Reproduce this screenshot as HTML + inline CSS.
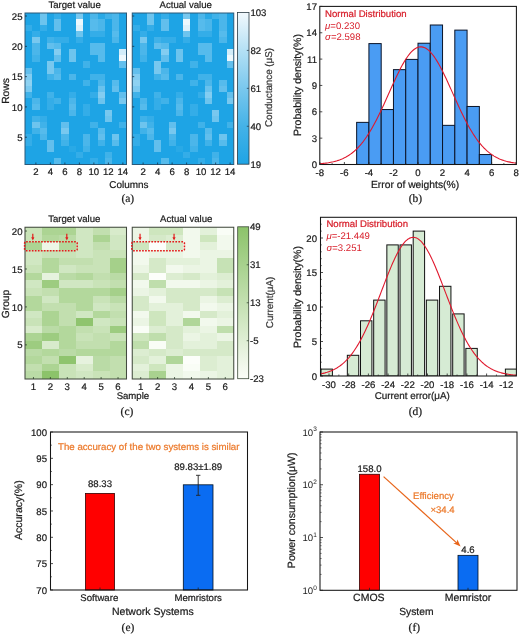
<!DOCTYPE html>
<html lang="en"><head><meta charset="utf-8"><title>Figure</title>
<style>html,body{margin:0;padding:0;background:#fff}svg{display:block;text-rendering:geometricPrecision}text{white-space:pre}</style></head>
<body>
<svg width="520" height="635" viewBox="0 0 520 635" font-family="'Liberation Sans', Arial, sans-serif">
<defs>
<linearGradient id="gb" x1="0" y1="0" x2="0" y2="1"><stop offset="0" stop-color="#f2f9fd"/><stop offset="0.25" stop-color="#b4e0f5"/><stop offset="0.5" stop-color="#7ac8ee"/><stop offset="0.75" stop-color="#44b2e7"/><stop offset="1" stop-color="#1ea4e5"/></linearGradient>
<linearGradient id="gg" x1="0" y1="0" x2="0" y2="1"><stop offset="0" stop-color="#8cc36a"/><stop offset="1" stop-color="#fbfdf8"/></linearGradient>
</defs>
<rect width="520" height="635" fill="#fff"/>
<rect x="25" y="13" width="101.5" height="151.5" fill="#1ea4e5"/>
<rect x="39.50" y="13.00" width="7.30" height="6.11" shape-rendering="crispEdges" fill="#6dc4ee"/>
<rect x="39.50" y="19.06" width="7.30" height="6.11" shape-rendering="crispEdges" fill="#6dc4ee"/>
<rect x="39.50" y="25.12" width="7.30" height="6.11" shape-rendering="crispEdges" fill="#34ade8"/>
<rect x="54.00" y="13.00" width="7.30" height="6.11" shape-rendering="crispEdges" fill="#34ade8"/>
<rect x="54.00" y="19.06" width="7.30" height="6.11" shape-rendering="crispEdges" fill="#62bfed"/>
<rect x="54.00" y="25.12" width="7.30" height="6.11" shape-rendering="crispEdges" fill="#62bfed"/>
<rect x="54.00" y="37.24" width="7.30" height="6.11" shape-rendering="crispEdges" fill="#34ade8"/>
<rect x="54.00" y="43.30" width="7.30" height="6.11" shape-rendering="crispEdges" fill="#56bbec"/>
<rect x="54.00" y="49.36" width="7.30" height="6.11" shape-rendering="crispEdges" fill="#83cdf1"/>
<rect x="54.00" y="55.42" width="7.30" height="6.11" shape-rendering="crispEdges" fill="#62bfed"/>
<rect x="54.00" y="67.54" width="7.30" height="6.11" shape-rendering="crispEdges" fill="#4bb6ea"/>
<rect x="54.00" y="73.60" width="7.30" height="6.11" shape-rendering="crispEdges" fill="#56bbec"/>
<rect x="54.00" y="97.84" width="7.30" height="6.11" shape-rendering="crispEdges" fill="#40b2e9"/>
<rect x="54.00" y="158.44" width="7.30" height="6.11" shape-rendering="crispEdges" fill="#56bbec"/>
<rect x="25.00" y="25.12" width="7.30" height="6.11" shape-rendering="crispEdges" fill="#34ade8"/>
<rect x="25.00" y="67.54" width="7.30" height="6.11" shape-rendering="crispEdges" fill="#62bfed"/>
<rect x="25.00" y="73.60" width="7.30" height="6.11" shape-rendering="crispEdges" fill="#83cdf1"/>
<rect x="25.00" y="79.66" width="7.30" height="6.11" shape-rendering="crispEdges" fill="#8ed2f2"/>
<rect x="25.00" y="85.72" width="7.30" height="6.11" shape-rendering="crispEdges" fill="#7ccaf0"/>
<rect x="25.00" y="91.78" width="7.30" height="6.11" shape-rendering="crispEdges" fill="#40b2e9"/>
<rect x="25.00" y="134.20" width="7.30" height="6.11" shape-rendering="crispEdges" fill="#34ade8"/>
<rect x="25.00" y="140.26" width="7.30" height="6.11" shape-rendering="crispEdges" fill="#34ade8"/>
<rect x="32.25" y="31.18" width="7.30" height="6.11" shape-rendering="crispEdges" fill="#34ade8"/>
<rect x="32.25" y="37.24" width="7.30" height="6.11" shape-rendering="crispEdges" fill="#78c8ef"/>
<rect x="32.25" y="43.30" width="7.30" height="6.11" shape-rendering="crispEdges" fill="#4bb6ea"/>
<rect x="32.25" y="49.36" width="7.30" height="6.11" shape-rendering="crispEdges" fill="#4bb6ea"/>
<rect x="32.25" y="55.42" width="7.30" height="6.11" shape-rendering="crispEdges" fill="#40b2e9"/>
<rect x="32.25" y="97.84" width="7.30" height="6.11" shape-rendering="crispEdges" fill="#4bb6ea"/>
<rect x="32.25" y="103.90" width="7.30" height="6.11" shape-rendering="crispEdges" fill="#56bbec"/>
<rect x="32.25" y="116.02" width="7.30" height="6.11" shape-rendering="crispEdges" fill="#40b2e9"/>
<rect x="32.25" y="122.08" width="7.30" height="6.11" shape-rendering="crispEdges" fill="#6dc4ee"/>
<rect x="32.25" y="128.14" width="7.30" height="6.11" shape-rendering="crispEdges" fill="#40b2e9"/>
<rect x="46.75" y="37.24" width="7.30" height="6.11" shape-rendering="crispEdges" fill="#40b2e9"/>
<rect x="46.75" y="43.30" width="7.30" height="6.11" shape-rendering="crispEdges" fill="#62bfed"/>
<rect x="46.75" y="61.48" width="7.30" height="6.11" shape-rendering="crispEdges" fill="#78c8ef"/>
<rect x="46.75" y="67.54" width="7.30" height="6.11" shape-rendering="crispEdges" fill="#78c8ef"/>
<rect x="46.75" y="73.60" width="7.30" height="6.11" shape-rendering="crispEdges" fill="#40b2e9"/>
<rect x="46.75" y="91.78" width="7.30" height="6.11" shape-rendering="crispEdges" fill="#40b2e9"/>
<rect x="46.75" y="97.84" width="7.30" height="6.11" shape-rendering="crispEdges" fill="#34ade8"/>
<rect x="46.75" y="103.90" width="7.30" height="6.11" shape-rendering="crispEdges" fill="#34ade8"/>
<rect x="46.75" y="140.26" width="7.30" height="6.11" shape-rendering="crispEdges" fill="#62bfed"/>
<rect x="46.75" y="146.32" width="7.30" height="6.11" shape-rendering="crispEdges" fill="#62bfed"/>
<rect x="61.25" y="37.24" width="7.30" height="6.11" shape-rendering="crispEdges" fill="#34ade8"/>
<rect x="61.25" y="122.08" width="7.30" height="6.11" shape-rendering="crispEdges" fill="#62bfed"/>
<rect x="61.25" y="128.14" width="7.30" height="6.11" shape-rendering="crispEdges" fill="#78c8ef"/>
<rect x="61.25" y="134.20" width="7.30" height="6.11" shape-rendering="crispEdges" fill="#4bb6ea"/>
<rect x="61.25" y="140.26" width="7.30" height="6.11" shape-rendering="crispEdges" fill="#40b2e9"/>
<rect x="68.50" y="49.36" width="7.30" height="6.11" shape-rendering="crispEdges" fill="#6dc4ee"/>
<rect x="68.50" y="55.42" width="7.30" height="6.11" shape-rendering="crispEdges" fill="#6dc4ee"/>
<rect x="68.50" y="73.60" width="7.30" height="6.11" shape-rendering="crispEdges" fill="#4bb6ea"/>
<rect x="68.50" y="91.78" width="7.30" height="6.11" shape-rendering="crispEdges" fill="#34ade8"/>
<rect x="68.50" y="97.84" width="7.30" height="6.11" shape-rendering="crispEdges" fill="#4bb6ea"/>
<rect x="68.50" y="103.90" width="7.30" height="6.11" shape-rendering="crispEdges" fill="#56bbec"/>
<rect x="68.50" y="109.96" width="7.30" height="6.11" shape-rendering="crispEdges" fill="#4bb6ea"/>
<rect x="68.50" y="146.32" width="7.30" height="6.11" shape-rendering="crispEdges" fill="#29a9e6"/>
<rect x="39.50" y="116.02" width="7.30" height="6.11" shape-rendering="crispEdges" fill="#34ade8"/>
<rect x="39.50" y="122.08" width="7.30" height="6.11" shape-rendering="crispEdges" fill="#40b2e9"/>
<rect x="39.50" y="128.14" width="7.30" height="6.11" shape-rendering="crispEdges" fill="#56bbec"/>
<rect x="39.50" y="134.20" width="7.30" height="6.11" shape-rendering="crispEdges" fill="#4bb6ea"/>
<rect x="75.75" y="13.00" width="7.30" height="6.11" shape-rendering="crispEdges" fill="#78c8ef"/>
<rect x="75.75" y="19.06" width="7.30" height="6.11" shape-rendering="crispEdges" fill="#edf8fd"/>
<rect x="75.75" y="25.12" width="7.30" height="6.11" shape-rendering="crispEdges" fill="#ddf1fb"/>
<rect x="75.75" y="31.18" width="7.30" height="6.11" shape-rendering="crispEdges" fill="#6dc4ee"/>
<rect x="75.75" y="37.24" width="7.30" height="6.11" shape-rendering="crispEdges" fill="#34ade8"/>
<rect x="75.75" y="152.38" width="7.30" height="6.11" shape-rendering="crispEdges" fill="#34ade8"/>
<rect x="90.25" y="13.00" width="7.30" height="6.11" shape-rendering="crispEdges" fill="#4bb6ea"/>
<rect x="90.25" y="19.06" width="7.30" height="6.11" shape-rendering="crispEdges" fill="#56bbec"/>
<rect x="90.25" y="25.12" width="7.30" height="6.11" shape-rendering="crispEdges" fill="#56bbec"/>
<rect x="90.25" y="31.18" width="7.30" height="6.11" shape-rendering="crispEdges" fill="#34ade8"/>
<rect x="90.25" y="43.30" width="7.30" height="6.11" shape-rendering="crispEdges" fill="#56bbec"/>
<rect x="90.25" y="49.36" width="7.30" height="6.11" shape-rendering="crispEdges" fill="#56bbec"/>
<rect x="90.25" y="73.60" width="7.30" height="6.11" shape-rendering="crispEdges" fill="#40b2e9"/>
<rect x="90.25" y="91.78" width="7.30" height="6.11" shape-rendering="crispEdges" fill="#34ade8"/>
<rect x="90.25" y="122.08" width="7.30" height="6.11" shape-rendering="crispEdges" fill="#40b2e9"/>
<rect x="90.25" y="158.44" width="7.30" height="6.11" shape-rendering="crispEdges" fill="#34ade8"/>
<rect x="97.50" y="13.00" width="7.30" height="6.11" shape-rendering="crispEdges" fill="#29a9e6"/>
<rect x="97.50" y="19.06" width="7.30" height="6.11" shape-rendering="crispEdges" fill="#4bb6ea"/>
<rect x="97.50" y="25.12" width="7.30" height="6.11" shape-rendering="crispEdges" fill="#4bb6ea"/>
<rect x="97.50" y="31.18" width="7.30" height="6.11" shape-rendering="crispEdges" fill="#34ade8"/>
<rect x="97.50" y="43.30" width="7.30" height="6.11" shape-rendering="crispEdges" fill="#56bbec"/>
<rect x="97.50" y="49.36" width="7.30" height="6.11" shape-rendering="crispEdges" fill="#56bbec"/>
<rect x="97.50" y="55.42" width="7.30" height="6.11" shape-rendering="crispEdges" fill="#56bbec"/>
<rect x="97.50" y="73.60" width="7.30" height="6.11" shape-rendering="crispEdges" fill="#40b2e9"/>
<rect x="97.50" y="79.66" width="7.30" height="6.11" shape-rendering="crispEdges" fill="#4bb6ea"/>
<rect x="97.50" y="85.72" width="7.30" height="6.11" shape-rendering="crispEdges" fill="#68c2ee"/>
<rect x="97.50" y="91.78" width="7.30" height="6.11" shape-rendering="crispEdges" fill="#83cdf1"/>
<rect x="97.50" y="97.84" width="7.30" height="6.11" shape-rendering="crispEdges" fill="#6dc4ee"/>
<rect x="97.50" y="128.14" width="7.30" height="6.11" shape-rendering="crispEdges" fill="#56bbec"/>
<rect x="97.50" y="134.20" width="7.30" height="6.11" shape-rendering="crispEdges" fill="#62bfed"/>
<rect x="97.50" y="140.26" width="7.30" height="6.11" shape-rendering="crispEdges" fill="#40b2e9"/>
<rect x="104.75" y="13.00" width="7.30" height="6.11" shape-rendering="crispEdges" fill="#40b2e9"/>
<rect x="104.75" y="109.96" width="7.30" height="6.11" shape-rendering="crispEdges" fill="#78c8ef"/>
<rect x="104.75" y="116.02" width="7.30" height="6.11" shape-rendering="crispEdges" fill="#6dc4ee"/>
<rect x="104.75" y="152.38" width="7.30" height="6.11" shape-rendering="crispEdges" fill="#40b2e9"/>
<rect x="104.75" y="158.44" width="7.30" height="6.11" shape-rendering="crispEdges" fill="#4bb6ea"/>
<rect x="112.00" y="13.00" width="7.30" height="6.11" shape-rendering="crispEdges" fill="#4bb6ea"/>
<rect x="112.00" y="19.06" width="7.30" height="6.11" shape-rendering="crispEdges" fill="#4bb6ea"/>
<rect x="112.00" y="25.12" width="7.30" height="6.11" shape-rendering="crispEdges" fill="#4bb6ea"/>
<rect x="112.00" y="31.18" width="7.30" height="6.11" shape-rendering="crispEdges" fill="#56bbec"/>
<rect x="112.00" y="37.24" width="7.30" height="6.11" shape-rendering="crispEdges" fill="#4bb6ea"/>
<rect x="112.00" y="79.66" width="7.30" height="6.11" shape-rendering="crispEdges" fill="#56bbec"/>
<rect x="112.00" y="85.72" width="7.30" height="6.11" shape-rendering="crispEdges" fill="#62bfed"/>
<rect x="112.00" y="134.20" width="7.30" height="6.11" shape-rendering="crispEdges" fill="#6dc4ee"/>
<rect x="112.00" y="140.26" width="7.30" height="6.11" shape-rendering="crispEdges" fill="#56bbec"/>
<rect x="119.25" y="49.36" width="7.30" height="6.11" shape-rendering="crispEdges" fill="#d2edfa"/>
<rect x="119.25" y="55.42" width="7.30" height="6.11" shape-rendering="crispEdges" fill="#edf8fd"/>
<rect x="119.25" y="61.48" width="7.30" height="6.11" shape-rendering="crispEdges" fill="#62bfed"/>
<rect x="119.25" y="91.78" width="7.30" height="6.11" shape-rendering="crispEdges" fill="#62bfed"/>
<rect x="119.25" y="97.84" width="7.30" height="6.11" shape-rendering="crispEdges" fill="#78c8ef"/>
<rect x="119.25" y="122.08" width="7.30" height="6.11" shape-rendering="crispEdges" fill="#40b2e9"/>
<rect x="83.00" y="61.48" width="7.30" height="6.11" shape-rendering="crispEdges" fill="#40b2e9"/>
<rect x="83.00" y="79.66" width="7.30" height="6.11" shape-rendering="crispEdges" fill="#40b2e9"/>
<rect x="83.00" y="103.90" width="7.30" height="6.11" shape-rendering="crispEdges" fill="#34ade8"/>
<rect x="83.00" y="109.96" width="7.30" height="6.11" shape-rendering="crispEdges" fill="#34ade8"/>
<rect x="83.00" y="134.20" width="7.30" height="6.11" shape-rendering="crispEdges" fill="#4bb6ea"/>
<rect x="83.00" y="140.26" width="7.30" height="6.11" shape-rendering="crispEdges" fill="#4bb6ea"/>
<rect x="83.00" y="146.32" width="7.30" height="6.11" shape-rendering="crispEdges" fill="#40b2e9"/>
<rect x="25" y="13" width="101.5" height="151.5" fill="none" stroke="#2a5a7a" stroke-width="1"/>
<line x1="35.88" y1="164.5" x2="35.88" y2="162.5" stroke="#123" stroke-width="0.7"/>
<line x1="50.38" y1="164.5" x2="50.38" y2="162.5" stroke="#123" stroke-width="0.7"/>
<line x1="64.88" y1="164.5" x2="64.88" y2="162.5" stroke="#123" stroke-width="0.7"/>
<line x1="79.38" y1="164.5" x2="79.38" y2="162.5" stroke="#123" stroke-width="0.7"/>
<line x1="93.88" y1="164.5" x2="93.88" y2="162.5" stroke="#123" stroke-width="0.7"/>
<line x1="108.38" y1="164.5" x2="108.38" y2="162.5" stroke="#123" stroke-width="0.7"/>
<line x1="122.88" y1="164.5" x2="122.88" y2="162.5" stroke="#123" stroke-width="0.7"/>
<line x1="25" y1="137.23" x2="27" y2="137.23" stroke="#123" stroke-width="0.7"/>
<line x1="25" y1="106.93" x2="27" y2="106.93" stroke="#123" stroke-width="0.7"/>
<line x1="25" y1="76.63" x2="27" y2="76.63" stroke="#123" stroke-width="0.7"/>
<line x1="25" y1="46.33" x2="27" y2="46.33" stroke="#123" stroke-width="0.7"/>
<line x1="25" y1="16.03" x2="27" y2="16.03" stroke="#123" stroke-width="0.7"/>
<rect x="132.25" y="13" width="101.5" height="151.5" fill="#1ea4e5"/>
<rect x="146.75" y="13.00" width="7.30" height="6.11" shape-rendering="crispEdges" fill="#6dc4ee"/>
<rect x="146.75" y="19.06" width="7.30" height="6.11" shape-rendering="crispEdges" fill="#6dc4ee"/>
<rect x="146.75" y="25.12" width="7.30" height="6.11" shape-rendering="crispEdges" fill="#34ade8"/>
<rect x="161.25" y="13.00" width="7.30" height="6.11" shape-rendering="crispEdges" fill="#34ade8"/>
<rect x="161.25" y="19.06" width="7.30" height="6.11" shape-rendering="crispEdges" fill="#62bfed"/>
<rect x="161.25" y="25.12" width="7.30" height="6.11" shape-rendering="crispEdges" fill="#62bfed"/>
<rect x="161.25" y="37.24" width="7.30" height="6.11" shape-rendering="crispEdges" fill="#34ade8"/>
<rect x="161.25" y="43.30" width="7.30" height="6.11" shape-rendering="crispEdges" fill="#56bbec"/>
<rect x="161.25" y="49.36" width="7.30" height="6.11" shape-rendering="crispEdges" fill="#83cdf1"/>
<rect x="161.25" y="55.42" width="7.30" height="6.11" shape-rendering="crispEdges" fill="#62bfed"/>
<rect x="161.25" y="67.54" width="7.30" height="6.11" shape-rendering="crispEdges" fill="#4bb6ea"/>
<rect x="161.25" y="73.60" width="7.30" height="6.11" shape-rendering="crispEdges" fill="#56bbec"/>
<rect x="161.25" y="97.84" width="7.30" height="6.11" shape-rendering="crispEdges" fill="#40b2e9"/>
<rect x="161.25" y="158.44" width="7.30" height="6.11" shape-rendering="crispEdges" fill="#56bbec"/>
<rect x="132.25" y="25.12" width="7.30" height="6.11" shape-rendering="crispEdges" fill="#34ade8"/>
<rect x="132.25" y="67.54" width="7.30" height="6.11" shape-rendering="crispEdges" fill="#62bfed"/>
<rect x="132.25" y="73.60" width="7.30" height="6.11" shape-rendering="crispEdges" fill="#83cdf1"/>
<rect x="132.25" y="79.66" width="7.30" height="6.11" shape-rendering="crispEdges" fill="#8ed2f2"/>
<rect x="132.25" y="85.72" width="7.30" height="6.11" shape-rendering="crispEdges" fill="#7ccaf0"/>
<rect x="132.25" y="91.78" width="7.30" height="6.11" shape-rendering="crispEdges" fill="#40b2e9"/>
<rect x="132.25" y="134.20" width="7.30" height="6.11" shape-rendering="crispEdges" fill="#34ade8"/>
<rect x="132.25" y="140.26" width="7.30" height="6.11" shape-rendering="crispEdges" fill="#34ade8"/>
<rect x="139.50" y="31.18" width="7.30" height="6.11" shape-rendering="crispEdges" fill="#34ade8"/>
<rect x="139.50" y="37.24" width="7.30" height="6.11" shape-rendering="crispEdges" fill="#78c8ef"/>
<rect x="139.50" y="43.30" width="7.30" height="6.11" shape-rendering="crispEdges" fill="#4bb6ea"/>
<rect x="139.50" y="49.36" width="7.30" height="6.11" shape-rendering="crispEdges" fill="#4bb6ea"/>
<rect x="139.50" y="55.42" width="7.30" height="6.11" shape-rendering="crispEdges" fill="#40b2e9"/>
<rect x="139.50" y="97.84" width="7.30" height="6.11" shape-rendering="crispEdges" fill="#4bb6ea"/>
<rect x="139.50" y="103.90" width="7.30" height="6.11" shape-rendering="crispEdges" fill="#56bbec"/>
<rect x="139.50" y="116.02" width="7.30" height="6.11" shape-rendering="crispEdges" fill="#40b2e9"/>
<rect x="139.50" y="122.08" width="7.30" height="6.11" shape-rendering="crispEdges" fill="#6dc4ee"/>
<rect x="139.50" y="128.14" width="7.30" height="6.11" shape-rendering="crispEdges" fill="#40b2e9"/>
<rect x="154.00" y="37.24" width="7.30" height="6.11" shape-rendering="crispEdges" fill="#40b2e9"/>
<rect x="154.00" y="43.30" width="7.30" height="6.11" shape-rendering="crispEdges" fill="#62bfed"/>
<rect x="154.00" y="61.48" width="7.30" height="6.11" shape-rendering="crispEdges" fill="#78c8ef"/>
<rect x="154.00" y="67.54" width="7.30" height="6.11" shape-rendering="crispEdges" fill="#78c8ef"/>
<rect x="154.00" y="73.60" width="7.30" height="6.11" shape-rendering="crispEdges" fill="#40b2e9"/>
<rect x="154.00" y="91.78" width="7.30" height="6.11" shape-rendering="crispEdges" fill="#40b2e9"/>
<rect x="154.00" y="97.84" width="7.30" height="6.11" shape-rendering="crispEdges" fill="#34ade8"/>
<rect x="154.00" y="103.90" width="7.30" height="6.11" shape-rendering="crispEdges" fill="#34ade8"/>
<rect x="154.00" y="140.26" width="7.30" height="6.11" shape-rendering="crispEdges" fill="#62bfed"/>
<rect x="154.00" y="146.32" width="7.30" height="6.11" shape-rendering="crispEdges" fill="#62bfed"/>
<rect x="168.50" y="37.24" width="7.30" height="6.11" shape-rendering="crispEdges" fill="#34ade8"/>
<rect x="168.50" y="122.08" width="7.30" height="6.11" shape-rendering="crispEdges" fill="#62bfed"/>
<rect x="168.50" y="128.14" width="7.30" height="6.11" shape-rendering="crispEdges" fill="#78c8ef"/>
<rect x="168.50" y="134.20" width="7.30" height="6.11" shape-rendering="crispEdges" fill="#4bb6ea"/>
<rect x="168.50" y="140.26" width="7.30" height="6.11" shape-rendering="crispEdges" fill="#40b2e9"/>
<rect x="175.75" y="49.36" width="7.30" height="6.11" shape-rendering="crispEdges" fill="#6dc4ee"/>
<rect x="175.75" y="55.42" width="7.30" height="6.11" shape-rendering="crispEdges" fill="#6dc4ee"/>
<rect x="175.75" y="73.60" width="7.30" height="6.11" shape-rendering="crispEdges" fill="#4bb6ea"/>
<rect x="175.75" y="91.78" width="7.30" height="6.11" shape-rendering="crispEdges" fill="#34ade8"/>
<rect x="175.75" y="97.84" width="7.30" height="6.11" shape-rendering="crispEdges" fill="#4bb6ea"/>
<rect x="175.75" y="103.90" width="7.30" height="6.11" shape-rendering="crispEdges" fill="#56bbec"/>
<rect x="175.75" y="109.96" width="7.30" height="6.11" shape-rendering="crispEdges" fill="#4bb6ea"/>
<rect x="175.75" y="146.32" width="7.30" height="6.11" shape-rendering="crispEdges" fill="#29a9e6"/>
<rect x="146.75" y="116.02" width="7.30" height="6.11" shape-rendering="crispEdges" fill="#34ade8"/>
<rect x="146.75" y="122.08" width="7.30" height="6.11" shape-rendering="crispEdges" fill="#40b2e9"/>
<rect x="146.75" y="128.14" width="7.30" height="6.11" shape-rendering="crispEdges" fill="#56bbec"/>
<rect x="146.75" y="134.20" width="7.30" height="6.11" shape-rendering="crispEdges" fill="#4bb6ea"/>
<rect x="183.00" y="13.00" width="7.30" height="6.11" shape-rendering="crispEdges" fill="#78c8ef"/>
<rect x="183.00" y="19.06" width="7.30" height="6.11" shape-rendering="crispEdges" fill="#edf8fd"/>
<rect x="183.00" y="25.12" width="7.30" height="6.11" shape-rendering="crispEdges" fill="#ddf1fb"/>
<rect x="183.00" y="31.18" width="7.30" height="6.11" shape-rendering="crispEdges" fill="#6dc4ee"/>
<rect x="183.00" y="37.24" width="7.30" height="6.11" shape-rendering="crispEdges" fill="#34ade8"/>
<rect x="183.00" y="152.38" width="7.30" height="6.11" shape-rendering="crispEdges" fill="#34ade8"/>
<rect x="197.50" y="13.00" width="7.30" height="6.11" shape-rendering="crispEdges" fill="#4bb6ea"/>
<rect x="197.50" y="19.06" width="7.30" height="6.11" shape-rendering="crispEdges" fill="#56bbec"/>
<rect x="197.50" y="25.12" width="7.30" height="6.11" shape-rendering="crispEdges" fill="#56bbec"/>
<rect x="197.50" y="31.18" width="7.30" height="6.11" shape-rendering="crispEdges" fill="#34ade8"/>
<rect x="197.50" y="43.30" width="7.30" height="6.11" shape-rendering="crispEdges" fill="#56bbec"/>
<rect x="197.50" y="49.36" width="7.30" height="6.11" shape-rendering="crispEdges" fill="#56bbec"/>
<rect x="197.50" y="73.60" width="7.30" height="6.11" shape-rendering="crispEdges" fill="#40b2e9"/>
<rect x="197.50" y="91.78" width="7.30" height="6.11" shape-rendering="crispEdges" fill="#34ade8"/>
<rect x="197.50" y="122.08" width="7.30" height="6.11" shape-rendering="crispEdges" fill="#40b2e9"/>
<rect x="197.50" y="158.44" width="7.30" height="6.11" shape-rendering="crispEdges" fill="#34ade8"/>
<rect x="204.75" y="13.00" width="7.30" height="6.11" shape-rendering="crispEdges" fill="#29a9e6"/>
<rect x="204.75" y="19.06" width="7.30" height="6.11" shape-rendering="crispEdges" fill="#4bb6ea"/>
<rect x="204.75" y="25.12" width="7.30" height="6.11" shape-rendering="crispEdges" fill="#4bb6ea"/>
<rect x="204.75" y="31.18" width="7.30" height="6.11" shape-rendering="crispEdges" fill="#34ade8"/>
<rect x="204.75" y="43.30" width="7.30" height="6.11" shape-rendering="crispEdges" fill="#56bbec"/>
<rect x="204.75" y="49.36" width="7.30" height="6.11" shape-rendering="crispEdges" fill="#56bbec"/>
<rect x="204.75" y="55.42" width="7.30" height="6.11" shape-rendering="crispEdges" fill="#56bbec"/>
<rect x="204.75" y="73.60" width="7.30" height="6.11" shape-rendering="crispEdges" fill="#40b2e9"/>
<rect x="204.75" y="79.66" width="7.30" height="6.11" shape-rendering="crispEdges" fill="#4bb6ea"/>
<rect x="204.75" y="85.72" width="7.30" height="6.11" shape-rendering="crispEdges" fill="#68c2ee"/>
<rect x="204.75" y="91.78" width="7.30" height="6.11" shape-rendering="crispEdges" fill="#83cdf1"/>
<rect x="204.75" y="97.84" width="7.30" height="6.11" shape-rendering="crispEdges" fill="#6dc4ee"/>
<rect x="204.75" y="128.14" width="7.30" height="6.11" shape-rendering="crispEdges" fill="#56bbec"/>
<rect x="204.75" y="134.20" width="7.30" height="6.11" shape-rendering="crispEdges" fill="#62bfed"/>
<rect x="204.75" y="140.26" width="7.30" height="6.11" shape-rendering="crispEdges" fill="#40b2e9"/>
<rect x="212.00" y="13.00" width="7.30" height="6.11" shape-rendering="crispEdges" fill="#40b2e9"/>
<rect x="212.00" y="109.96" width="7.30" height="6.11" shape-rendering="crispEdges" fill="#78c8ef"/>
<rect x="212.00" y="116.02" width="7.30" height="6.11" shape-rendering="crispEdges" fill="#6dc4ee"/>
<rect x="212.00" y="152.38" width="7.30" height="6.11" shape-rendering="crispEdges" fill="#40b2e9"/>
<rect x="212.00" y="158.44" width="7.30" height="6.11" shape-rendering="crispEdges" fill="#4bb6ea"/>
<rect x="219.25" y="13.00" width="7.30" height="6.11" shape-rendering="crispEdges" fill="#4bb6ea"/>
<rect x="219.25" y="19.06" width="7.30" height="6.11" shape-rendering="crispEdges" fill="#4bb6ea"/>
<rect x="219.25" y="25.12" width="7.30" height="6.11" shape-rendering="crispEdges" fill="#4bb6ea"/>
<rect x="219.25" y="31.18" width="7.30" height="6.11" shape-rendering="crispEdges" fill="#56bbec"/>
<rect x="219.25" y="37.24" width="7.30" height="6.11" shape-rendering="crispEdges" fill="#4bb6ea"/>
<rect x="219.25" y="79.66" width="7.30" height="6.11" shape-rendering="crispEdges" fill="#56bbec"/>
<rect x="219.25" y="85.72" width="7.30" height="6.11" shape-rendering="crispEdges" fill="#62bfed"/>
<rect x="219.25" y="134.20" width="7.30" height="6.11" shape-rendering="crispEdges" fill="#6dc4ee"/>
<rect x="219.25" y="140.26" width="7.30" height="6.11" shape-rendering="crispEdges" fill="#56bbec"/>
<rect x="226.50" y="49.36" width="7.30" height="6.11" shape-rendering="crispEdges" fill="#d2edfa"/>
<rect x="226.50" y="55.42" width="7.30" height="6.11" shape-rendering="crispEdges" fill="#edf8fd"/>
<rect x="226.50" y="61.48" width="7.30" height="6.11" shape-rendering="crispEdges" fill="#62bfed"/>
<rect x="226.50" y="91.78" width="7.30" height="6.11" shape-rendering="crispEdges" fill="#62bfed"/>
<rect x="226.50" y="97.84" width="7.30" height="6.11" shape-rendering="crispEdges" fill="#78c8ef"/>
<rect x="226.50" y="122.08" width="7.30" height="6.11" shape-rendering="crispEdges" fill="#40b2e9"/>
<rect x="190.25" y="61.48" width="7.30" height="6.11" shape-rendering="crispEdges" fill="#40b2e9"/>
<rect x="190.25" y="79.66" width="7.30" height="6.11" shape-rendering="crispEdges" fill="#40b2e9"/>
<rect x="190.25" y="103.90" width="7.30" height="6.11" shape-rendering="crispEdges" fill="#34ade8"/>
<rect x="190.25" y="109.96" width="7.30" height="6.11" shape-rendering="crispEdges" fill="#34ade8"/>
<rect x="190.25" y="134.20" width="7.30" height="6.11" shape-rendering="crispEdges" fill="#4bb6ea"/>
<rect x="190.25" y="140.26" width="7.30" height="6.11" shape-rendering="crispEdges" fill="#4bb6ea"/>
<rect x="190.25" y="146.32" width="7.30" height="6.11" shape-rendering="crispEdges" fill="#40b2e9"/>
<rect x="132.25" y="13" width="101.5" height="151.5" fill="none" stroke="#2a5a7a" stroke-width="1"/>
<line x1="143.12" y1="164.5" x2="143.12" y2="162.5" stroke="#123" stroke-width="0.7"/>
<line x1="157.62" y1="164.5" x2="157.62" y2="162.5" stroke="#123" stroke-width="0.7"/>
<line x1="172.12" y1="164.5" x2="172.12" y2="162.5" stroke="#123" stroke-width="0.7"/>
<line x1="186.62" y1="164.5" x2="186.62" y2="162.5" stroke="#123" stroke-width="0.7"/>
<line x1="201.12" y1="164.5" x2="201.12" y2="162.5" stroke="#123" stroke-width="0.7"/>
<line x1="215.62" y1="164.5" x2="215.62" y2="162.5" stroke="#123" stroke-width="0.7"/>
<line x1="230.12" y1="164.5" x2="230.12" y2="162.5" stroke="#123" stroke-width="0.7"/>
<line x1="132.25" y1="137.23" x2="134.25" y2="137.23" stroke="#123" stroke-width="0.7"/>
<line x1="132.25" y1="106.93" x2="134.25" y2="106.93" stroke="#123" stroke-width="0.7"/>
<line x1="132.25" y1="76.63" x2="134.25" y2="76.63" stroke="#123" stroke-width="0.7"/>
<line x1="132.25" y1="46.33" x2="134.25" y2="46.33" stroke="#123" stroke-width="0.7"/>
<line x1="132.25" y1="16.03" x2="134.25" y2="16.03" stroke="#123" stroke-width="0.7"/>
<text x="74.60" y="7.90" font-size="9.6" text-anchor="middle" fill="#1c1c1c" stroke="#1c1c1c" stroke-width="0.22">Target value</text>
<text x="185.70" y="7.90" font-size="9.6" text-anchor="middle" fill="#1c1c1c" stroke="#1c1c1c" stroke-width="0.22">Actual value</text>
<text x="22.50" y="140.83" font-size="9.6" text-anchor="end" fill="#1c1c1c" stroke="#1c1c1c" stroke-width="0.22">5</text>
<text x="22.50" y="110.53" font-size="9.6" text-anchor="end" fill="#1c1c1c" stroke="#1c1c1c" stroke-width="0.22">10</text>
<text x="22.50" y="80.23" font-size="9.6" text-anchor="end" fill="#1c1c1c" stroke="#1c1c1c" stroke-width="0.22">15</text>
<text x="22.50" y="49.93" font-size="9.6" text-anchor="end" fill="#1c1c1c" stroke="#1c1c1c" stroke-width="0.22">20</text>
<text x="22.50" y="19.63" font-size="9.6" text-anchor="end" fill="#1c1c1c" stroke="#1c1c1c" stroke-width="0.22">25</text>
<text x="35.88" y="175.00" font-size="9.6" text-anchor="middle" fill="#1c1c1c" stroke="#1c1c1c" stroke-width="0.22">2</text>
<text x="143.12" y="175.00" font-size="9.6" text-anchor="middle" fill="#1c1c1c" stroke="#1c1c1c" stroke-width="0.22">2</text>
<text x="50.38" y="175.00" font-size="9.6" text-anchor="middle" fill="#1c1c1c" stroke="#1c1c1c" stroke-width="0.22">4</text>
<text x="157.62" y="175.00" font-size="9.6" text-anchor="middle" fill="#1c1c1c" stroke="#1c1c1c" stroke-width="0.22">4</text>
<text x="64.88" y="175.00" font-size="9.6" text-anchor="middle" fill="#1c1c1c" stroke="#1c1c1c" stroke-width="0.22">6</text>
<text x="172.12" y="175.00" font-size="9.6" text-anchor="middle" fill="#1c1c1c" stroke="#1c1c1c" stroke-width="0.22">6</text>
<text x="79.38" y="175.00" font-size="9.6" text-anchor="middle" fill="#1c1c1c" stroke="#1c1c1c" stroke-width="0.22">8</text>
<text x="186.62" y="175.00" font-size="9.6" text-anchor="middle" fill="#1c1c1c" stroke="#1c1c1c" stroke-width="0.22">8</text>
<text x="93.88" y="175.00" font-size="9.6" text-anchor="middle" fill="#1c1c1c" stroke="#1c1c1c" stroke-width="0.22">10</text>
<text x="201.12" y="175.00" font-size="9.6" text-anchor="middle" fill="#1c1c1c" stroke="#1c1c1c" stroke-width="0.22">10</text>
<text x="108.38" y="175.00" font-size="9.6" text-anchor="middle" fill="#1c1c1c" stroke="#1c1c1c" stroke-width="0.22">12</text>
<text x="215.62" y="175.00" font-size="9.6" text-anchor="middle" fill="#1c1c1c" stroke="#1c1c1c" stroke-width="0.22">12</text>
<text x="122.88" y="175.00" font-size="9.6" text-anchor="middle" fill="#1c1c1c" stroke="#1c1c1c" stroke-width="0.22">14</text>
<text x="230.12" y="175.00" font-size="9.6" text-anchor="middle" fill="#1c1c1c" stroke="#1c1c1c" stroke-width="0.22">14</text>
<text x="8.70" y="91.00" font-size="10.3" text-anchor="middle" fill="#1c1c1c" stroke="#1c1c1c" stroke-width="0.22" transform="rotate(-90 8.70 91.00)">Rows</text>
<text x="128.90" y="188.20" font-size="9.95" text-anchor="middle" fill="#1c1c1c" stroke="#1c1c1c" stroke-width="0.22">Columns</text>
<text x="127.80" y="201.90" font-size="11.5" text-anchor="middle" fill="#1c1c1c" stroke="#1c1c1c" stroke-width="0.22" font-family="'Liberation Serif', 'Times New Roman', serif">(a)</text>
<rect x="237.5" y="12.5" width="11.5" height="151.7" fill="url(#gb)" stroke="#2a3a44" stroke-width="0.8"/>
<text x="250.40" y="16.10" font-size="9.6" text-anchor="start" fill="#1c1c1c" stroke="#1c1c1c" stroke-width="0.22">103</text>
<text x="250.40" y="54.02" font-size="9.6" text-anchor="start" fill="#1c1c1c" stroke="#1c1c1c" stroke-width="0.22">82</text>
<line x1="248.8" y1="50.42" x2="246.8" y2="50.42" stroke="#234" stroke-width="0.7"/>
<text x="250.40" y="91.95" font-size="9.6" text-anchor="start" fill="#1c1c1c" stroke="#1c1c1c" stroke-width="0.22">61</text>
<line x1="248.8" y1="88.35" x2="246.8" y2="88.35" stroke="#234" stroke-width="0.7"/>
<text x="250.40" y="129.88" font-size="9.6" text-anchor="start" fill="#1c1c1c" stroke="#1c1c1c" stroke-width="0.22">40</text>
<line x1="248.8" y1="126.27" x2="246.8" y2="126.27" stroke="#234" stroke-width="0.7"/>
<text x="250.40" y="167.80" font-size="9.6" text-anchor="start" fill="#1c1c1c" stroke="#1c1c1c" stroke-width="0.22">19</text>
<text x="272.00" y="87.50" font-size="9.8" text-anchor="middle" fill="#383838" stroke="#383838" stroke-width="0.22" transform="rotate(-90 272.00 87.50)">Conductance (μS)</text>
<rect x="356.65" y="122.37" width="12.27" height="42.13" fill="#4a9cf3" stroke="#0a1428" stroke-width="1.0"/>
<rect x="368.92" y="43.60" width="12.27" height="120.90" fill="#4a9cf3" stroke="#0a1428" stroke-width="1.0"/>
<rect x="381.19" y="109.54" width="12.27" height="54.96" fill="#4a9cf3" stroke="#0a1428" stroke-width="1.0"/>
<rect x="393.46" y="69.64" width="12.27" height="94.86" fill="#4a9cf3" stroke="#0a1428" stroke-width="1.0"/>
<rect x="405.73" y="59.41" width="12.27" height="105.09" fill="#4a9cf3" stroke="#0a1428" stroke-width="1.0"/>
<rect x="418.00" y="43.23" width="12.27" height="121.27" fill="#4a9cf3" stroke="#0a1428" stroke-width="1.0"/>
<rect x="430.27" y="25.00" width="12.27" height="139.50" fill="#4a9cf3" stroke="#0a1428" stroke-width="1.0"/>
<rect x="442.54" y="125.35" width="12.27" height="39.15" fill="#4a9cf3" stroke="#0a1428" stroke-width="1.0"/>
<rect x="454.81" y="30.12" width="12.27" height="134.38" fill="#4a9cf3" stroke="#0a1428" stroke-width="1.0"/>
<rect x="467.08" y="106.47" width="12.27" height="58.03" fill="#4a9cf3" stroke="#0a1428" stroke-width="1.0"/>
<rect x="479.35" y="154.55" width="12.27" height="9.95" fill="#4a9cf3" stroke="#0a1428" stroke-width="1.0"/>
<polyline points="319.84,163.72 321.07,163.62 322.29,163.51 323.52,163.38 324.75,163.25 325.98,163.09 327.20,162.92 328.43,162.74 329.66,162.53 330.88,162.30 332.11,162.05 333.34,161.78 334.56,161.48 335.79,161.15 337.02,160.79 338.25,160.39 339.47,159.97 340.70,159.50 341.93,159.00 343.15,158.45 344.38,157.86 345.61,157.23 346.83,156.54 348.06,155.81 349.29,155.01 350.51,154.17 351.74,153.26 352.97,152.29 354.20,151.26 355.42,150.16 356.65,148.99 357.88,147.75 359.10,146.45 360.33,145.06 361.56,143.61 362.79,142.07 364.01,140.46 365.24,138.77 366.47,137.01 367.69,135.16 368.92,133.24 370.15,131.25 371.37,129.18 372.60,127.03 373.83,124.81 375.06,122.53 376.28,120.18 377.51,117.76 378.74,115.29 379.96,112.76 381.19,110.18 382.42,107.56 383.64,104.91 384.87,102.22 386.10,99.50 387.32,96.77 388.55,94.02 389.78,91.28 391.01,88.54 392.23,85.81 393.46,83.11 394.69,80.44 395.91,77.80 397.14,75.22 398.37,72.70 399.60,70.25 400.82,67.87 402.05,65.58 403.28,63.39 404.50,61.30 405.73,59.33 406.96,57.47 408.18,55.75 409.41,54.16 410.64,52.71 411.87,51.41 413.09,50.26 414.32,49.28 415.55,48.46 416.77,47.80 418.00,47.32 419.23,47.00 420.45,46.86 421.68,46.90 422.91,47.11 424.13,47.49 425.36,48.04 426.59,48.76 427.82,49.65 429.04,50.70 430.27,51.91 431.50,53.27 432.72,54.78 433.95,56.42 435.18,58.20 436.40,60.10 437.63,62.13 438.86,64.26 440.09,66.49 441.31,68.81 442.54,71.22 443.77,73.70 444.99,76.25 446.22,78.85 447.45,81.50 448.68,84.19 449.90,86.90 451.13,89.63 452.36,92.38 453.58,95.12 454.81,97.86 456.04,100.59 457.26,103.29 458.49,105.97 459.72,108.62 460.94,111.22 462.17,113.78 463.40,116.28 464.63,118.73 465.85,121.12 467.08,123.45 468.31,125.71 469.53,127.90 470.76,130.01 471.99,132.06 473.21,134.02 474.44,135.91 475.67,137.72 476.90,139.46 478.12,141.11 479.35,142.69 480.58,144.20 481.80,145.62 483.03,146.98 484.26,148.26 485.49,149.47 486.71,150.61 487.94,151.68 489.17,152.68 490.39,153.63 491.62,154.51 492.85,155.34 494.07,156.11 495.30,156.82 496.53,157.49 497.75,158.11 498.98,158.68 500.21,159.21 501.44,159.69 502.66,160.14 503.89,160.56 505.12,160.93 506.34,161.28 507.57,161.60 508.80,161.89 510.02,162.15 511.25,162.40 512.48,162.61 513.71,162.81 514.93,162.99 516.16,163.16" fill="none" stroke="#e0182d" stroke-width="1.1"/>
<rect x="319.8" y="6.4" width="196.59999999999997" height="158.1" fill="none" stroke="#151515" stroke-width="1.05"/>
<text x="317.00" y="168.10" font-size="9.6" text-anchor="end" fill="#1c1c1c" stroke="#1c1c1c" stroke-width="0.22">0</text>
<line x1="319.8" y1="164.50" x2="322.3" y2="164.50" stroke="#222" stroke-width="0.8"/>
<text x="317.00" y="141.75" font-size="9.6" text-anchor="end" fill="#1c1c1c" stroke="#1c1c1c" stroke-width="0.22">3</text>
<line x1="319.8" y1="138.15" x2="322.3" y2="138.15" stroke="#222" stroke-width="0.8"/>
<text x="317.00" y="115.40" font-size="9.6" text-anchor="end" fill="#1c1c1c" stroke="#1c1c1c" stroke-width="0.22">6</text>
<line x1="319.8" y1="111.80" x2="322.3" y2="111.80" stroke="#222" stroke-width="0.8"/>
<text x="317.00" y="89.05" font-size="9.6" text-anchor="end" fill="#1c1c1c" stroke="#1c1c1c" stroke-width="0.22">9</text>
<line x1="319.8" y1="85.45" x2="322.3" y2="85.45" stroke="#222" stroke-width="0.8"/>
<text x="317.00" y="62.70" font-size="9.6" text-anchor="end" fill="#1c1c1c" stroke="#1c1c1c" stroke-width="0.22">11</text>
<line x1="319.8" y1="59.10" x2="322.3" y2="59.10" stroke="#222" stroke-width="0.8"/>
<text x="317.00" y="36.35" font-size="9.6" text-anchor="end" fill="#1c1c1c" stroke="#1c1c1c" stroke-width="0.22">14</text>
<line x1="319.8" y1="32.75" x2="322.3" y2="32.75" stroke="#222" stroke-width="0.8"/>
<text x="317.00" y="10.00" font-size="9.6" text-anchor="end" fill="#1c1c1c" stroke="#1c1c1c" stroke-width="0.22">17</text>
<line x1="319.8" y1="6.40" x2="322.3" y2="6.40" stroke="#222" stroke-width="0.8"/>
<text x="319.84" y="176.00" font-size="9.6" text-anchor="middle" fill="#1c1c1c" stroke="#1c1c1c" stroke-width="0.22">-8</text>
<line x1="319.84" y1="164.5" x2="319.84" y2="162.0" stroke="#222" stroke-width="0.8"/>
<text x="344.38" y="176.00" font-size="9.6" text-anchor="middle" fill="#1c1c1c" stroke="#1c1c1c" stroke-width="0.22">-6</text>
<line x1="344.38" y1="164.5" x2="344.38" y2="162.0" stroke="#222" stroke-width="0.8"/>
<text x="368.92" y="176.00" font-size="9.6" text-anchor="middle" fill="#1c1c1c" stroke="#1c1c1c" stroke-width="0.22">-4</text>
<line x1="368.92" y1="164.5" x2="368.92" y2="162.0" stroke="#222" stroke-width="0.8"/>
<text x="393.46" y="176.00" font-size="9.6" text-anchor="middle" fill="#1c1c1c" stroke="#1c1c1c" stroke-width="0.22">-2</text>
<line x1="393.46" y1="164.5" x2="393.46" y2="162.0" stroke="#222" stroke-width="0.8"/>
<text x="418.00" y="176.00" font-size="9.6" text-anchor="middle" fill="#1c1c1c" stroke="#1c1c1c" stroke-width="0.22">0</text>
<line x1="418.00" y1="164.5" x2="418.00" y2="162.0" stroke="#222" stroke-width="0.8"/>
<text x="442.54" y="176.00" font-size="9.6" text-anchor="middle" fill="#1c1c1c" stroke="#1c1c1c" stroke-width="0.22">2</text>
<line x1="442.54" y1="164.5" x2="442.54" y2="162.0" stroke="#222" stroke-width="0.8"/>
<text x="467.08" y="176.00" font-size="9.6" text-anchor="middle" fill="#1c1c1c" stroke="#1c1c1c" stroke-width="0.22">4</text>
<line x1="467.08" y1="164.5" x2="467.08" y2="162.0" stroke="#222" stroke-width="0.8"/>
<text x="491.62" y="176.00" font-size="9.6" text-anchor="middle" fill="#1c1c1c" stroke="#1c1c1c" stroke-width="0.22">6</text>
<line x1="491.62" y1="164.5" x2="491.62" y2="162.0" stroke="#222" stroke-width="0.8"/>
<text x="516.16" y="176.00" font-size="9.6" text-anchor="middle" fill="#1c1c1c" stroke="#1c1c1c" stroke-width="0.22">8</text>
<line x1="516.16" y1="164.5" x2="516.16" y2="162.0" stroke="#222" stroke-width="0.8"/>
<line x1="332.11" y1="164.5" x2="332.11" y2="163.0" stroke="#222" stroke-width="0.7"/>
<line x1="356.65" y1="164.5" x2="356.65" y2="163.0" stroke="#222" stroke-width="0.7"/>
<line x1="381.19" y1="164.5" x2="381.19" y2="163.0" stroke="#222" stroke-width="0.7"/>
<line x1="405.73" y1="164.5" x2="405.73" y2="163.0" stroke="#222" stroke-width="0.7"/>
<line x1="430.27" y1="164.5" x2="430.27" y2="163.0" stroke="#222" stroke-width="0.7"/>
<line x1="454.81" y1="164.5" x2="454.81" y2="163.0" stroke="#222" stroke-width="0.7"/>
<line x1="479.35" y1="164.5" x2="479.35" y2="163.0" stroke="#222" stroke-width="0.7"/>
<line x1="503.89" y1="164.5" x2="503.89" y2="163.0" stroke="#222" stroke-width="0.7"/>
<text x="301.20" y="85.00" font-size="10.55" text-anchor="middle" fill="#1c1c1c" stroke="#1c1c1c" stroke-width="0.22" transform="rotate(-90 301.20 85.00)">Probability density(%)</text>
<text x="415.00" y="188.40" font-size="10.3" text-anchor="middle" fill="#1c1c1c" stroke="#1c1c1c" stroke-width="0.22">Error of weights(%)</text>
<text x="415.40" y="201.80" font-size="11.5" text-anchor="middle" fill="#1c1c1c" stroke="#1c1c1c" stroke-width="0.22" font-family="'Liberation Serif', 'Times New Roman', serif">(b)</text>
<text x="325.10" y="16.80" font-size="9.6" text-anchor="start" fill="#d8202c" stroke="#d8202c" stroke-width="0.22">Normal Distribution</text>
<text x="325.1" y="28.8" font-size="9.6" fill="#d8202c"><tspan font-style="italic">μ</tspan>=0.230</text>
<text x="325.1" y="40.2" font-size="9.6" fill="#d8202c"><tspan font-style="italic">σ</tspan>=2.598</text>
<rect x="25.00" y="227.25" width="16.97" height="7.64" shape-rendering="crispEdges" fill="#c9e3b8"/>
<rect x="41.92" y="227.25" width="16.97" height="7.64" shape-rendering="crispEdges" fill="#acd493"/>
<rect x="58.83" y="227.25" width="16.97" height="7.64" shape-rendering="crispEdges" fill="#acd493"/>
<rect x="75.75" y="227.25" width="16.97" height="7.64" shape-rendering="crispEdges" fill="#d0e7c2"/>
<rect x="92.67" y="227.25" width="16.97" height="7.64" shape-rendering="crispEdges" fill="#c2dfaf"/>
<rect x="109.58" y="227.25" width="16.97" height="7.64" shape-rendering="crispEdges" fill="#d8ebcb"/>
<rect x="25.00" y="234.84" width="16.97" height="7.64" shape-rendering="crispEdges" fill="#c9e3b8"/>
<rect x="41.92" y="234.84" width="16.97" height="7.64" shape-rendering="crispEdges" fill="#b3d89c"/>
<rect x="58.83" y="234.84" width="16.97" height="7.64" shape-rendering="crispEdges" fill="#badba6"/>
<rect x="75.75" y="234.84" width="16.97" height="7.64" shape-rendering="crispEdges" fill="#d0e7c2"/>
<rect x="92.67" y="234.84" width="16.97" height="7.64" shape-rendering="crispEdges" fill="#acd493"/>
<rect x="109.58" y="234.84" width="16.97" height="7.64" shape-rendering="crispEdges" fill="#d0e7c2"/>
<rect x="25.00" y="242.43" width="16.97" height="7.64" shape-rendering="crispEdges" fill="#acd493"/>
<rect x="41.92" y="242.43" width="16.97" height="7.64" shape-rendering="crispEdges" fill="#edf6e7"/>
<rect x="58.83" y="242.43" width="16.97" height="7.64" shape-rendering="crispEdges" fill="#b3d89c"/>
<rect x="75.75" y="242.43" width="16.97" height="7.64" shape-rendering="crispEdges" fill="#d0e7c2"/>
<rect x="92.67" y="242.43" width="16.97" height="7.64" shape-rendering="crispEdges" fill="#c2dfaf"/>
<rect x="109.58" y="242.43" width="16.97" height="7.64" shape-rendering="crispEdges" fill="#d0e7c2"/>
<rect x="25.00" y="250.01" width="16.97" height="7.64" shape-rendering="crispEdges" fill="#d0e7c2"/>
<rect x="41.92" y="250.01" width="16.97" height="7.64" shape-rendering="crispEdges" fill="#c9e3b8"/>
<rect x="58.83" y="250.01" width="16.97" height="7.64" shape-rendering="crispEdges" fill="#c9e3b8"/>
<rect x="75.75" y="250.01" width="16.97" height="7.64" shape-rendering="crispEdges" fill="#d0e7c2"/>
<rect x="92.67" y="250.01" width="16.97" height="7.64" shape-rendering="crispEdges" fill="#c9e3b8"/>
<rect x="109.58" y="250.01" width="16.97" height="7.64" shape-rendering="crispEdges" fill="#c9e3b8"/>
<rect x="25.00" y="257.60" width="16.97" height="7.64" shape-rendering="crispEdges" fill="#d0e7c2"/>
<rect x="41.92" y="257.60" width="16.97" height="7.64" shape-rendering="crispEdges" fill="#b3d89c"/>
<rect x="58.83" y="257.60" width="16.97" height="7.64" shape-rendering="crispEdges" fill="#c2dfaf"/>
<rect x="75.75" y="257.60" width="16.97" height="7.64" shape-rendering="crispEdges" fill="#c2dfaf"/>
<rect x="92.67" y="257.60" width="16.97" height="7.64" shape-rendering="crispEdges" fill="#c9e3b8"/>
<rect x="109.58" y="257.60" width="16.97" height="7.64" shape-rendering="crispEdges" fill="#a5d08a"/>
<rect x="25.00" y="265.19" width="16.97" height="7.64" shape-rendering="crispEdges" fill="#c9e3b8"/>
<rect x="41.92" y="265.19" width="16.97" height="7.64" shape-rendering="crispEdges" fill="#b3d89c"/>
<rect x="58.83" y="265.19" width="16.97" height="7.64" shape-rendering="crispEdges" fill="#d0e7c2"/>
<rect x="75.75" y="265.19" width="16.97" height="7.64" shape-rendering="crispEdges" fill="#c9e3b8"/>
<rect x="92.67" y="265.19" width="16.97" height="7.64" shape-rendering="crispEdges" fill="#c9e3b8"/>
<rect x="109.58" y="265.19" width="16.97" height="7.64" shape-rendering="crispEdges" fill="#a5d08a"/>
<rect x="25.00" y="272.77" width="16.97" height="7.64" shape-rendering="crispEdges" fill="#b3d89c"/>
<rect x="41.92" y="272.77" width="16.97" height="7.64" shape-rendering="crispEdges" fill="#e6f2de"/>
<rect x="58.83" y="272.77" width="16.97" height="7.64" shape-rendering="crispEdges" fill="#badba6"/>
<rect x="75.75" y="272.77" width="16.97" height="7.64" shape-rendering="crispEdges" fill="#b3d89c"/>
<rect x="92.67" y="272.77" width="16.97" height="7.64" shape-rendering="crispEdges" fill="#c2dfaf"/>
<rect x="109.58" y="272.77" width="16.97" height="7.64" shape-rendering="crispEdges" fill="#badba6"/>
<rect x="25.00" y="280.36" width="16.97" height="7.64" shape-rendering="crispEdges" fill="#d0e7c2"/>
<rect x="41.92" y="280.36" width="16.97" height="7.64" shape-rendering="crispEdges" fill="#9dcc80"/>
<rect x="58.83" y="280.36" width="16.97" height="7.64" shape-rendering="crispEdges" fill="#d0e7c2"/>
<rect x="75.75" y="280.36" width="16.97" height="7.64" shape-rendering="crispEdges" fill="#d0e7c2"/>
<rect x="92.67" y="280.36" width="16.97" height="7.64" shape-rendering="crispEdges" fill="#c9e3b8"/>
<rect x="109.58" y="280.36" width="16.97" height="7.64" shape-rendering="crispEdges" fill="#c2dfaf"/>
<rect x="25.00" y="287.95" width="16.97" height="7.64" shape-rendering="crispEdges" fill="#c9e3b8"/>
<rect x="41.92" y="287.95" width="16.97" height="7.64" shape-rendering="crispEdges" fill="#c2dfaf"/>
<rect x="58.83" y="287.95" width="16.97" height="7.64" shape-rendering="crispEdges" fill="#b3d89c"/>
<rect x="75.75" y="287.95" width="16.97" height="7.64" shape-rendering="crispEdges" fill="#b3d89c"/>
<rect x="92.67" y="287.95" width="16.97" height="7.64" shape-rendering="crispEdges" fill="#b3d89c"/>
<rect x="109.58" y="287.95" width="16.97" height="7.64" shape-rendering="crispEdges" fill="#a5d08a"/>
<rect x="25.00" y="295.54" width="16.97" height="7.64" shape-rendering="crispEdges" fill="#b3d89c"/>
<rect x="41.92" y="295.54" width="16.97" height="7.64" shape-rendering="crispEdges" fill="#d0e7c2"/>
<rect x="58.83" y="295.54" width="16.97" height="7.64" shape-rendering="crispEdges" fill="#b3d89c"/>
<rect x="75.75" y="295.54" width="16.97" height="7.64" shape-rendering="crispEdges" fill="#b3d89c"/>
<rect x="92.67" y="295.54" width="16.97" height="7.64" shape-rendering="crispEdges" fill="#c9e3b8"/>
<rect x="109.58" y="295.54" width="16.97" height="7.64" shape-rendering="crispEdges" fill="#badba6"/>
<rect x="25.00" y="303.12" width="16.97" height="7.64" shape-rendering="crispEdges" fill="#b3d89c"/>
<rect x="41.92" y="303.12" width="16.97" height="7.64" shape-rendering="crispEdges" fill="#c2dfaf"/>
<rect x="58.83" y="303.12" width="16.97" height="7.64" shape-rendering="crispEdges" fill="#c2dfaf"/>
<rect x="75.75" y="303.12" width="16.97" height="7.64" shape-rendering="crispEdges" fill="#b3d89c"/>
<rect x="92.67" y="303.12" width="16.97" height="7.64" shape-rendering="crispEdges" fill="#d0e7c2"/>
<rect x="109.58" y="303.12" width="16.97" height="7.64" shape-rendering="crispEdges" fill="#c9e3b8"/>
<rect x="25.00" y="310.71" width="16.97" height="7.64" shape-rendering="crispEdges" fill="#d0e7c2"/>
<rect x="41.92" y="310.71" width="16.97" height="7.64" shape-rendering="crispEdges" fill="#acd493"/>
<rect x="58.83" y="310.71" width="16.97" height="7.64" shape-rendering="crispEdges" fill="#c2dfaf"/>
<rect x="75.75" y="310.71" width="16.97" height="7.64" shape-rendering="crispEdges" fill="#d0e7c2"/>
<rect x="92.67" y="310.71" width="16.97" height="7.64" shape-rendering="crispEdges" fill="#b3d89c"/>
<rect x="109.58" y="310.71" width="16.97" height="7.64" shape-rendering="crispEdges" fill="#c2dfaf"/>
<rect x="25.00" y="318.30" width="16.97" height="7.64" shape-rendering="crispEdges" fill="#c9e3b8"/>
<rect x="41.92" y="318.30" width="16.97" height="7.64" shape-rendering="crispEdges" fill="#acd493"/>
<rect x="58.83" y="318.30" width="16.97" height="7.64" shape-rendering="crispEdges" fill="#c2dfaf"/>
<rect x="75.75" y="318.30" width="16.97" height="7.64" shape-rendering="crispEdges" fill="#8fc46e"/>
<rect x="92.67" y="318.30" width="16.97" height="7.64" shape-rendering="crispEdges" fill="#d0e7c2"/>
<rect x="109.58" y="318.30" width="16.97" height="7.64" shape-rendering="crispEdges" fill="#c9e3b8"/>
<rect x="25.00" y="325.89" width="16.97" height="7.64" shape-rendering="crispEdges" fill="#d8ebcb"/>
<rect x="41.92" y="325.89" width="16.97" height="7.64" shape-rendering="crispEdges" fill="#badba6"/>
<rect x="58.83" y="325.89" width="16.97" height="7.64" shape-rendering="crispEdges" fill="#b3d89c"/>
<rect x="75.75" y="325.89" width="16.97" height="7.64" shape-rendering="crispEdges" fill="#c2dfaf"/>
<rect x="92.67" y="325.89" width="16.97" height="7.64" shape-rendering="crispEdges" fill="#c9e3b8"/>
<rect x="109.58" y="325.89" width="16.97" height="7.64" shape-rendering="crispEdges" fill="#9dcc80"/>
<rect x="25.00" y="333.48" width="16.97" height="7.64" shape-rendering="crispEdges" fill="#acd493"/>
<rect x="41.92" y="333.48" width="16.97" height="7.64" shape-rendering="crispEdges" fill="#9dcc80"/>
<rect x="58.83" y="333.48" width="16.97" height="7.64" shape-rendering="crispEdges" fill="#b3d89c"/>
<rect x="75.75" y="333.48" width="16.97" height="7.64" shape-rendering="crispEdges" fill="#c9e3b8"/>
<rect x="92.67" y="333.48" width="16.97" height="7.64" shape-rendering="crispEdges" fill="#c2dfaf"/>
<rect x="109.58" y="333.48" width="16.97" height="7.64" shape-rendering="crispEdges" fill="#c9e3b8"/>
<rect x="25.00" y="341.06" width="16.97" height="7.64" shape-rendering="crispEdges" fill="#9dcc80"/>
<rect x="41.92" y="341.06" width="16.97" height="7.64" shape-rendering="crispEdges" fill="#d8ebcb"/>
<rect x="58.83" y="341.06" width="16.97" height="7.64" shape-rendering="crispEdges" fill="#b3d89c"/>
<rect x="75.75" y="341.06" width="16.97" height="7.64" shape-rendering="crispEdges" fill="#c2dfaf"/>
<rect x="92.67" y="341.06" width="16.97" height="7.64" shape-rendering="crispEdges" fill="#c2dfaf"/>
<rect x="109.58" y="341.06" width="16.97" height="7.64" shape-rendering="crispEdges" fill="#b3d89c"/>
<rect x="25.00" y="348.65" width="16.97" height="7.64" shape-rendering="crispEdges" fill="#badba6"/>
<rect x="41.92" y="348.65" width="16.97" height="7.64" shape-rendering="crispEdges" fill="#b3d89c"/>
<rect x="58.83" y="348.65" width="16.97" height="7.64" shape-rendering="crispEdges" fill="#badba6"/>
<rect x="75.75" y="348.65" width="16.97" height="7.64" shape-rendering="crispEdges" fill="#b3d89c"/>
<rect x="92.67" y="348.65" width="16.97" height="7.64" shape-rendering="crispEdges" fill="#b3d89c"/>
<rect x="109.58" y="348.65" width="16.97" height="7.64" shape-rendering="crispEdges" fill="#b3d89c"/>
<rect x="25.00" y="356.24" width="16.97" height="7.64" shape-rendering="crispEdges" fill="#b3d89c"/>
<rect x="41.92" y="356.24" width="16.97" height="7.64" shape-rendering="crispEdges" fill="#c2dfaf"/>
<rect x="58.83" y="356.24" width="16.97" height="7.64" shape-rendering="crispEdges" fill="#8fc46e"/>
<rect x="75.75" y="356.24" width="16.97" height="7.64" shape-rendering="crispEdges" fill="#e6f2de"/>
<rect x="92.67" y="356.24" width="16.97" height="7.64" shape-rendering="crispEdges" fill="#badba6"/>
<rect x="109.58" y="356.24" width="16.97" height="7.64" shape-rendering="crispEdges" fill="#c2dfaf"/>
<rect x="25.00" y="363.83" width="16.97" height="7.64" shape-rendering="crispEdges" fill="#c2dfaf"/>
<rect x="41.92" y="363.83" width="16.97" height="7.64" shape-rendering="crispEdges" fill="#acd493"/>
<rect x="58.83" y="363.83" width="16.97" height="7.64" shape-rendering="crispEdges" fill="#c9e3b8"/>
<rect x="75.75" y="363.83" width="16.97" height="7.64" shape-rendering="crispEdges" fill="#d8ebcb"/>
<rect x="92.67" y="363.83" width="16.97" height="7.64" shape-rendering="crispEdges" fill="#badba6"/>
<rect x="109.58" y="363.83" width="16.97" height="7.64" shape-rendering="crispEdges" fill="#c2dfaf"/>
<rect x="25.00" y="371.41" width="16.97" height="7.64" shape-rendering="crispEdges" fill="#badba6"/>
<rect x="41.92" y="371.41" width="16.97" height="7.64" shape-rendering="crispEdges" fill="#8cc36a"/>
<rect x="58.83" y="371.41" width="16.97" height="7.64" shape-rendering="crispEdges" fill="#c9e3b8"/>
<rect x="75.75" y="371.41" width="16.97" height="7.64" shape-rendering="crispEdges" fill="#d0e7c2"/>
<rect x="92.67" y="371.41" width="16.97" height="7.64" shape-rendering="crispEdges" fill="#c9e3b8"/>
<rect x="109.58" y="371.41" width="16.97" height="7.64" shape-rendering="crispEdges" fill="#c2dfaf"/>
<rect x="25" y="227.25" width="101.5" height="151.75" fill="none" stroke="#444b40" stroke-width="1.05"/>
<line x1="33.46" y1="379.0" x2="33.46" y2="377.0" stroke="#232" stroke-width="0.7"/>
<text x="33.46" y="390.00" font-size="9.6" text-anchor="middle" fill="#1c1c1c" stroke="#1c1c1c" stroke-width="0.22">1</text>
<line x1="50.38" y1="379.0" x2="50.38" y2="377.0" stroke="#232" stroke-width="0.7"/>
<text x="50.38" y="390.00" font-size="9.6" text-anchor="middle" fill="#1c1c1c" stroke="#1c1c1c" stroke-width="0.22">2</text>
<line x1="67.29" y1="379.0" x2="67.29" y2="377.0" stroke="#232" stroke-width="0.7"/>
<text x="67.29" y="390.00" font-size="9.6" text-anchor="middle" fill="#1c1c1c" stroke="#1c1c1c" stroke-width="0.22">3</text>
<line x1="84.21" y1="379.0" x2="84.21" y2="377.0" stroke="#232" stroke-width="0.7"/>
<text x="84.21" y="390.00" font-size="9.6" text-anchor="middle" fill="#1c1c1c" stroke="#1c1c1c" stroke-width="0.22">4</text>
<line x1="101.12" y1="379.0" x2="101.12" y2="377.0" stroke="#232" stroke-width="0.7"/>
<text x="101.12" y="390.00" font-size="9.6" text-anchor="middle" fill="#1c1c1c" stroke="#1c1c1c" stroke-width="0.22">5</text>
<line x1="118.04" y1="379.0" x2="118.04" y2="377.0" stroke="#232" stroke-width="0.7"/>
<text x="118.04" y="390.00" font-size="9.6" text-anchor="middle" fill="#1c1c1c" stroke="#1c1c1c" stroke-width="0.22">6</text>
<line x1="25" y1="344.86" x2="27" y2="344.86" stroke="#232" stroke-width="0.7"/>
<text x="22.50" y="348.46" font-size="9.6" text-anchor="end" fill="#1c1c1c" stroke="#1c1c1c" stroke-width="0.22">5</text>
<line x1="25" y1="306.92" x2="27" y2="306.92" stroke="#232" stroke-width="0.7"/>
<text x="22.50" y="310.52" font-size="9.6" text-anchor="end" fill="#1c1c1c" stroke="#1c1c1c" stroke-width="0.22">10</text>
<line x1="25" y1="268.98" x2="27" y2="268.98" stroke="#232" stroke-width="0.7"/>
<text x="22.50" y="272.58" font-size="9.6" text-anchor="end" fill="#1c1c1c" stroke="#1c1c1c" stroke-width="0.22">15</text>
<line x1="25" y1="231.04" x2="27" y2="231.04" stroke="#232" stroke-width="0.7"/>
<text x="22.50" y="234.64" font-size="9.6" text-anchor="end" fill="#1c1c1c" stroke="#1c1c1c" stroke-width="0.22">20</text>
<rect x="132.25" y="227.25" width="16.97" height="7.64" shape-rendering="crispEdges" fill="#ebf5e4"/>
<rect x="149.17" y="227.25" width="16.97" height="7.64" shape-rendering="crispEdges" fill="#cee6be"/>
<rect x="166.08" y="227.25" width="16.97" height="7.64" shape-rendering="crispEdges" fill="#cee6be"/>
<rect x="183.00" y="227.25" width="16.97" height="7.64" shape-rendering="crispEdges" fill="#f2f9ed"/>
<rect x="199.92" y="227.25" width="16.97" height="7.64" shape-rendering="crispEdges" fill="#e3f1da"/>
<rect x="216.83" y="227.25" width="16.97" height="7.64" shape-rendering="crispEdges" fill="#f9fdf6"/>
<rect x="132.25" y="234.84" width="16.97" height="7.64" shape-rendering="crispEdges" fill="#ebf5e4"/>
<rect x="149.17" y="234.84" width="16.97" height="7.64" shape-rendering="crispEdges" fill="#d5e9c8"/>
<rect x="166.08" y="234.84" width="16.97" height="7.64" shape-rendering="crispEdges" fill="#dcedd1"/>
<rect x="183.00" y="234.84" width="16.97" height="7.64" shape-rendering="crispEdges" fill="#f2f9ed"/>
<rect x="199.92" y="234.84" width="16.97" height="7.64" shape-rendering="crispEdges" fill="#cee6be"/>
<rect x="216.83" y="234.84" width="16.97" height="7.64" shape-rendering="crispEdges" fill="#f2f9ed"/>
<rect x="132.25" y="242.43" width="16.97" height="7.64" shape-rendering="crispEdges" fill="#cee6be"/>
<rect x="149.17" y="242.43" width="16.97" height="7.64" shape-rendering="crispEdges" fill="#fcfefa"/>
<rect x="166.08" y="242.43" width="16.97" height="7.64" shape-rendering="crispEdges" fill="#d5e9c8"/>
<rect x="183.00" y="242.43" width="16.97" height="7.64" shape-rendering="crispEdges" fill="#f2f9ed"/>
<rect x="199.92" y="242.43" width="16.97" height="7.64" shape-rendering="crispEdges" fill="#e3f1da"/>
<rect x="216.83" y="242.43" width="16.97" height="7.64" shape-rendering="crispEdges" fill="#f2f9ed"/>
<rect x="132.25" y="250.01" width="16.97" height="7.64" shape-rendering="crispEdges" fill="#f2f9ed"/>
<rect x="149.17" y="250.01" width="16.97" height="7.64" shape-rendering="crispEdges" fill="#ebf5e4"/>
<rect x="166.08" y="250.01" width="16.97" height="7.64" shape-rendering="crispEdges" fill="#ebf5e4"/>
<rect x="183.00" y="250.01" width="16.97" height="7.64" shape-rendering="crispEdges" fill="#f2f9ed"/>
<rect x="199.92" y="250.01" width="16.97" height="7.64" shape-rendering="crispEdges" fill="#ebf5e4"/>
<rect x="216.83" y="250.01" width="16.97" height="7.64" shape-rendering="crispEdges" fill="#ebf5e4"/>
<rect x="132.25" y="257.60" width="16.97" height="7.64" shape-rendering="crispEdges" fill="#f2f9ed"/>
<rect x="149.17" y="257.60" width="16.97" height="7.64" shape-rendering="crispEdges" fill="#d5e9c8"/>
<rect x="166.08" y="257.60" width="16.97" height="7.64" shape-rendering="crispEdges" fill="#e3f1da"/>
<rect x="183.00" y="257.60" width="16.97" height="7.64" shape-rendering="crispEdges" fill="#e3f1da"/>
<rect x="199.92" y="257.60" width="16.97" height="7.64" shape-rendering="crispEdges" fill="#ebf5e4"/>
<rect x="216.83" y="257.60" width="16.97" height="7.64" shape-rendering="crispEdges" fill="#c6e2b5"/>
<rect x="132.25" y="265.19" width="16.97" height="7.64" shape-rendering="crispEdges" fill="#ebf5e4"/>
<rect x="149.17" y="265.19" width="16.97" height="7.64" shape-rendering="crispEdges" fill="#d5e9c8"/>
<rect x="166.08" y="265.19" width="16.97" height="7.64" shape-rendering="crispEdges" fill="#f2f9ed"/>
<rect x="183.00" y="265.19" width="16.97" height="7.64" shape-rendering="crispEdges" fill="#ebf5e4"/>
<rect x="199.92" y="265.19" width="16.97" height="7.64" shape-rendering="crispEdges" fill="#ebf5e4"/>
<rect x="216.83" y="265.19" width="16.97" height="7.64" shape-rendering="crispEdges" fill="#c6e2b5"/>
<rect x="132.25" y="272.77" width="16.97" height="7.64" shape-rendering="crispEdges" fill="#d5e9c8"/>
<rect x="149.17" y="272.77" width="16.97" height="7.64" shape-rendering="crispEdges" fill="#fcfefa"/>
<rect x="166.08" y="272.77" width="16.97" height="7.64" shape-rendering="crispEdges" fill="#dcedd1"/>
<rect x="183.00" y="272.77" width="16.97" height="7.64" shape-rendering="crispEdges" fill="#d5e9c8"/>
<rect x="199.92" y="272.77" width="16.97" height="7.64" shape-rendering="crispEdges" fill="#e3f1da"/>
<rect x="216.83" y="272.77" width="16.97" height="7.64" shape-rendering="crispEdges" fill="#dcedd1"/>
<rect x="132.25" y="280.36" width="16.97" height="7.64" shape-rendering="crispEdges" fill="#f2f9ed"/>
<rect x="149.17" y="280.36" width="16.97" height="7.64" shape-rendering="crispEdges" fill="#bfdeac"/>
<rect x="166.08" y="280.36" width="16.97" height="7.64" shape-rendering="crispEdges" fill="#f2f9ed"/>
<rect x="183.00" y="280.36" width="16.97" height="7.64" shape-rendering="crispEdges" fill="#f2f9ed"/>
<rect x="199.92" y="280.36" width="16.97" height="7.64" shape-rendering="crispEdges" fill="#ebf5e4"/>
<rect x="216.83" y="280.36" width="16.97" height="7.64" shape-rendering="crispEdges" fill="#e3f1da"/>
<rect x="132.25" y="287.95" width="16.97" height="7.64" shape-rendering="crispEdges" fill="#ebf5e4"/>
<rect x="149.17" y="287.95" width="16.97" height="7.64" shape-rendering="crispEdges" fill="#e3f1da"/>
<rect x="166.08" y="287.95" width="16.97" height="7.64" shape-rendering="crispEdges" fill="#d5e9c8"/>
<rect x="183.00" y="287.95" width="16.97" height="7.64" shape-rendering="crispEdges" fill="#d5e9c8"/>
<rect x="199.92" y="287.95" width="16.97" height="7.64" shape-rendering="crispEdges" fill="#d5e9c8"/>
<rect x="216.83" y="287.95" width="16.97" height="7.64" shape-rendering="crispEdges" fill="#c6e2b5"/>
<rect x="132.25" y="295.54" width="16.97" height="7.64" shape-rendering="crispEdges" fill="#d5e9c8"/>
<rect x="149.17" y="295.54" width="16.97" height="7.64" shape-rendering="crispEdges" fill="#f2f9ed"/>
<rect x="166.08" y="295.54" width="16.97" height="7.64" shape-rendering="crispEdges" fill="#d5e9c8"/>
<rect x="183.00" y="295.54" width="16.97" height="7.64" shape-rendering="crispEdges" fill="#d5e9c8"/>
<rect x="199.92" y="295.54" width="16.97" height="7.64" shape-rendering="crispEdges" fill="#ebf5e4"/>
<rect x="216.83" y="295.54" width="16.97" height="7.64" shape-rendering="crispEdges" fill="#dcedd1"/>
<rect x="132.25" y="303.12" width="16.97" height="7.64" shape-rendering="crispEdges" fill="#d5e9c8"/>
<rect x="149.17" y="303.12" width="16.97" height="7.64" shape-rendering="crispEdges" fill="#e3f1da"/>
<rect x="166.08" y="303.12" width="16.97" height="7.64" shape-rendering="crispEdges" fill="#e3f1da"/>
<rect x="183.00" y="303.12" width="16.97" height="7.64" shape-rendering="crispEdges" fill="#d5e9c8"/>
<rect x="199.92" y="303.12" width="16.97" height="7.64" shape-rendering="crispEdges" fill="#f2f9ed"/>
<rect x="216.83" y="303.12" width="16.97" height="7.64" shape-rendering="crispEdges" fill="#ebf5e4"/>
<rect x="132.25" y="310.71" width="16.97" height="7.64" shape-rendering="crispEdges" fill="#f2f9ed"/>
<rect x="149.17" y="310.71" width="16.97" height="7.64" shape-rendering="crispEdges" fill="#cee6be"/>
<rect x="166.08" y="310.71" width="16.97" height="7.64" shape-rendering="crispEdges" fill="#e3f1da"/>
<rect x="183.00" y="310.71" width="16.97" height="7.64" shape-rendering="crispEdges" fill="#f2f9ed"/>
<rect x="199.92" y="310.71" width="16.97" height="7.64" shape-rendering="crispEdges" fill="#d5e9c8"/>
<rect x="216.83" y="310.71" width="16.97" height="7.64" shape-rendering="crispEdges" fill="#e3f1da"/>
<rect x="132.25" y="318.30" width="16.97" height="7.64" shape-rendering="crispEdges" fill="#ebf5e4"/>
<rect x="149.17" y="318.30" width="16.97" height="7.64" shape-rendering="crispEdges" fill="#cee6be"/>
<rect x="166.08" y="318.30" width="16.97" height="7.64" shape-rendering="crispEdges" fill="#e3f1da"/>
<rect x="183.00" y="318.30" width="16.97" height="7.64" shape-rendering="crispEdges" fill="#b0d699"/>
<rect x="199.92" y="318.30" width="16.97" height="7.64" shape-rendering="crispEdges" fill="#f2f9ed"/>
<rect x="216.83" y="318.30" width="16.97" height="7.64" shape-rendering="crispEdges" fill="#ebf5e4"/>
<rect x="132.25" y="325.89" width="16.97" height="7.64" shape-rendering="crispEdges" fill="#f9fdf6"/>
<rect x="149.17" y="325.89" width="16.97" height="7.64" shape-rendering="crispEdges" fill="#dcedd1"/>
<rect x="166.08" y="325.89" width="16.97" height="7.64" shape-rendering="crispEdges" fill="#d5e9c8"/>
<rect x="183.00" y="325.89" width="16.97" height="7.64" shape-rendering="crispEdges" fill="#e3f1da"/>
<rect x="199.92" y="325.89" width="16.97" height="7.64" shape-rendering="crispEdges" fill="#ebf5e4"/>
<rect x="216.83" y="325.89" width="16.97" height="7.64" shape-rendering="crispEdges" fill="#bfdeac"/>
<rect x="132.25" y="333.48" width="16.97" height="7.64" shape-rendering="crispEdges" fill="#cee6be"/>
<rect x="149.17" y="333.48" width="16.97" height="7.64" shape-rendering="crispEdges" fill="#bfdeac"/>
<rect x="166.08" y="333.48" width="16.97" height="7.64" shape-rendering="crispEdges" fill="#d5e9c8"/>
<rect x="183.00" y="333.48" width="16.97" height="7.64" shape-rendering="crispEdges" fill="#ebf5e4"/>
<rect x="199.92" y="333.48" width="16.97" height="7.64" shape-rendering="crispEdges" fill="#e3f1da"/>
<rect x="216.83" y="333.48" width="16.97" height="7.64" shape-rendering="crispEdges" fill="#ebf5e4"/>
<rect x="132.25" y="341.06" width="16.97" height="7.64" shape-rendering="crispEdges" fill="#bfdeac"/>
<rect x="149.17" y="341.06" width="16.97" height="7.64" shape-rendering="crispEdges" fill="#f9fdf6"/>
<rect x="166.08" y="341.06" width="16.97" height="7.64" shape-rendering="crispEdges" fill="#d5e9c8"/>
<rect x="183.00" y="341.06" width="16.97" height="7.64" shape-rendering="crispEdges" fill="#e3f1da"/>
<rect x="199.92" y="341.06" width="16.97" height="7.64" shape-rendering="crispEdges" fill="#e3f1da"/>
<rect x="216.83" y="341.06" width="16.97" height="7.64" shape-rendering="crispEdges" fill="#d5e9c8"/>
<rect x="132.25" y="348.65" width="16.97" height="7.64" shape-rendering="crispEdges" fill="#dcedd1"/>
<rect x="149.17" y="348.65" width="16.97" height="7.64" shape-rendering="crispEdges" fill="#d5e9c8"/>
<rect x="166.08" y="348.65" width="16.97" height="7.64" shape-rendering="crispEdges" fill="#dcedd1"/>
<rect x="183.00" y="348.65" width="16.97" height="7.64" shape-rendering="crispEdges" fill="#d5e9c8"/>
<rect x="199.92" y="348.65" width="16.97" height="7.64" shape-rendering="crispEdges" fill="#d5e9c8"/>
<rect x="216.83" y="348.65" width="16.97" height="7.64" shape-rendering="crispEdges" fill="#d5e9c8"/>
<rect x="132.25" y="356.24" width="16.97" height="7.64" shape-rendering="crispEdges" fill="#d5e9c8"/>
<rect x="149.17" y="356.24" width="16.97" height="7.64" shape-rendering="crispEdges" fill="#e3f1da"/>
<rect x="166.08" y="356.24" width="16.97" height="7.64" shape-rendering="crispEdges" fill="#b0d699"/>
<rect x="183.00" y="356.24" width="16.97" height="7.64" shape-rendering="crispEdges" fill="#fcfefa"/>
<rect x="199.92" y="356.24" width="16.97" height="7.64" shape-rendering="crispEdges" fill="#dcedd1"/>
<rect x="216.83" y="356.24" width="16.97" height="7.64" shape-rendering="crispEdges" fill="#e3f1da"/>
<rect x="132.25" y="363.83" width="16.97" height="7.64" shape-rendering="crispEdges" fill="#e3f1da"/>
<rect x="149.17" y="363.83" width="16.97" height="7.64" shape-rendering="crispEdges" fill="#cee6be"/>
<rect x="166.08" y="363.83" width="16.97" height="7.64" shape-rendering="crispEdges" fill="#ebf5e4"/>
<rect x="183.00" y="363.83" width="16.97" height="7.64" shape-rendering="crispEdges" fill="#f9fdf6"/>
<rect x="199.92" y="363.83" width="16.97" height="7.64" shape-rendering="crispEdges" fill="#dcedd1"/>
<rect x="216.83" y="363.83" width="16.97" height="7.64" shape-rendering="crispEdges" fill="#e3f1da"/>
<rect x="132.25" y="371.41" width="16.97" height="7.64" shape-rendering="crispEdges" fill="#dcedd1"/>
<rect x="149.17" y="371.41" width="16.97" height="7.64" shape-rendering="crispEdges" fill="#a9d28f"/>
<rect x="166.08" y="371.41" width="16.97" height="7.64" shape-rendering="crispEdges" fill="#ebf5e4"/>
<rect x="183.00" y="371.41" width="16.97" height="7.64" shape-rendering="crispEdges" fill="#f2f9ed"/>
<rect x="199.92" y="371.41" width="16.97" height="7.64" shape-rendering="crispEdges" fill="#ebf5e4"/>
<rect x="216.83" y="371.41" width="16.97" height="7.64" shape-rendering="crispEdges" fill="#e3f1da"/>
<rect x="132.25" y="227.25" width="101.5" height="151.75" fill="none" stroke="#444b40" stroke-width="1.05"/>
<line x1="140.71" y1="379.0" x2="140.71" y2="377.0" stroke="#232" stroke-width="0.7"/>
<text x="140.71" y="390.00" font-size="9.6" text-anchor="middle" fill="#1c1c1c" stroke="#1c1c1c" stroke-width="0.22">1</text>
<line x1="157.62" y1="379.0" x2="157.62" y2="377.0" stroke="#232" stroke-width="0.7"/>
<text x="157.62" y="390.00" font-size="9.6" text-anchor="middle" fill="#1c1c1c" stroke="#1c1c1c" stroke-width="0.22">2</text>
<line x1="174.54" y1="379.0" x2="174.54" y2="377.0" stroke="#232" stroke-width="0.7"/>
<text x="174.54" y="390.00" font-size="9.6" text-anchor="middle" fill="#1c1c1c" stroke="#1c1c1c" stroke-width="0.22">3</text>
<line x1="191.46" y1="379.0" x2="191.46" y2="377.0" stroke="#232" stroke-width="0.7"/>
<text x="191.46" y="390.00" font-size="9.6" text-anchor="middle" fill="#1c1c1c" stroke="#1c1c1c" stroke-width="0.22">4</text>
<line x1="208.38" y1="379.0" x2="208.38" y2="377.0" stroke="#232" stroke-width="0.7"/>
<text x="208.38" y="390.00" font-size="9.6" text-anchor="middle" fill="#1c1c1c" stroke="#1c1c1c" stroke-width="0.22">5</text>
<line x1="225.29" y1="379.0" x2="225.29" y2="377.0" stroke="#232" stroke-width="0.7"/>
<text x="225.29" y="390.00" font-size="9.6" text-anchor="middle" fill="#1c1c1c" stroke="#1c1c1c" stroke-width="0.22">6</text>
<text x="74.30" y="221.60" font-size="9.6" text-anchor="middle" fill="#1c1c1c" stroke="#1c1c1c" stroke-width="0.22">Target value</text>
<text x="186.20" y="221.60" font-size="9.6" text-anchor="middle" fill="#1c1c1c" stroke="#1c1c1c" stroke-width="0.22">Actual value</text>
<text x="8.70" y="304.00" font-size="10.3" text-anchor="middle" fill="#1c1c1c" stroke="#1c1c1c" stroke-width="0.22" transform="rotate(-90 8.70 304.00)">Group</text>
<text x="132.90" y="399.20" font-size="9.6" text-anchor="middle" fill="#1c1c1c" stroke="#1c1c1c" stroke-width="0.22">Sample</text>
<text x="127.00" y="415.40" font-size="11.5" text-anchor="middle" fill="#1c1c1c" stroke="#1c1c1c" stroke-width="0.22" font-family="'Liberation Serif', 'Times New Roman', serif">(c)</text>
<rect x="24.60" y="241.7" width="52.6" height="9.0" rx="1.5" fill="none" stroke="#e31b1b" stroke-width="1.5" stroke-dasharray="1.7 1.3"/>
<path d="M32.80 233.8 V239" stroke="#e31b1b" stroke-width="1.2" fill="none"/>
<path d="M31.20 237.3 L32.80 240.6 L34.40 237.3 Z" fill="#e02020"/>
<path d="M66.80 233.8 V239" stroke="#e31b1b" stroke-width="1.2" fill="none"/>
<path d="M65.20 237.3 L66.80 240.6 L68.40 237.3 Z" fill="#e02020"/>
<rect x="131.85" y="241.7" width="52.6" height="9.0" rx="1.5" fill="none" stroke="#e31b1b" stroke-width="1.5" stroke-dasharray="1.7 1.3"/>
<path d="M140.05 233.8 V239" stroke="#e31b1b" stroke-width="1.2" fill="none"/>
<path d="M138.45 237.3 L140.05 240.6 L141.65 237.3 Z" fill="#e02020"/>
<path d="M174.05 233.8 V239" stroke="#e31b1b" stroke-width="1.2" fill="none"/>
<path d="M172.45 237.3 L174.05 240.6 L175.65 237.3 Z" fill="#e02020"/>
<rect x="237.7" y="226.8" width="11" height="151.9" fill="url(#gg)" stroke="#3c4a38" stroke-width="0.8"/>
<text x="250.00" y="230.40" font-size="9.6" text-anchor="start" fill="#1c1c1c" stroke="#1c1c1c" stroke-width="0.22">49</text>
<text x="250.00" y="268.38" font-size="9.6" text-anchor="start" fill="#1c1c1c" stroke="#1c1c1c" stroke-width="0.22">31</text>
<line x1="248.7" y1="264.78" x2="246.7" y2="264.78" stroke="#232" stroke-width="0.7"/>
<text x="250.00" y="306.35" font-size="9.6" text-anchor="start" fill="#1c1c1c" stroke="#1c1c1c" stroke-width="0.22">13</text>
<line x1="248.7" y1="302.75" x2="246.7" y2="302.75" stroke="#232" stroke-width="0.7"/>
<text x="250.00" y="344.33" font-size="9.6" text-anchor="start" fill="#1c1c1c" stroke="#1c1c1c" stroke-width="0.22">-5</text>
<line x1="248.7" y1="340.73" x2="246.7" y2="340.73" stroke="#232" stroke-width="0.7"/>
<text x="250.00" y="382.30" font-size="9.6" text-anchor="start" fill="#1c1c1c" stroke="#1c1c1c" stroke-width="0.22">-23</text>
<text x="272.80" y="302.50" font-size="9.8" text-anchor="middle" fill="#383838" stroke="#383838" stroke-width="0.22" transform="rotate(-90 272.80 302.50)">Current(μA)</text>
<clipPath id="cd"><rect x="320.5" y="217.3" width="195.89999999999998" height="158.7"/></clipPath>
<g clip-path="url(#cd)">
<rect x="321.00" y="369.10" width="11.4" height="6.90" fill="#d6ebd4" stroke="#111" stroke-width="1.0"/>
<rect x="347.34" y="355.30" width="11.4" height="20.70" fill="#d6ebd4" stroke="#111" stroke-width="1.0"/>
<rect x="360.51" y="320.80" width="11.4" height="55.20" fill="#d6ebd4" stroke="#111" stroke-width="1.0"/>
<rect x="373.68" y="300.10" width="11.4" height="75.90" fill="#d6ebd4" stroke="#111" stroke-width="1.0"/>
<rect x="386.85" y="244.90" width="11.4" height="131.10" fill="#d6ebd4" stroke="#111" stroke-width="1.0"/>
<rect x="400.02" y="244.90" width="11.4" height="131.10" fill="#d6ebd4" stroke="#111" stroke-width="1.0"/>
<rect x="413.19" y="231.10" width="11.4" height="144.90" fill="#d6ebd4" stroke="#111" stroke-width="1.0"/>
<rect x="426.36" y="300.10" width="11.4" height="75.90" fill="#d6ebd4" stroke="#111" stroke-width="1.0"/>
<rect x="439.53" y="286.30" width="11.4" height="89.70" fill="#d6ebd4" stroke="#111" stroke-width="1.0"/>
<rect x="452.70" y="313.90" width="11.4" height="62.10" fill="#d6ebd4" stroke="#111" stroke-width="1.0"/>
<rect x="465.87" y="348.40" width="11.4" height="27.60" fill="#d6ebd4" stroke="#111" stroke-width="1.0"/>
<rect x="505.38" y="369.10" width="11.4" height="6.90" fill="#d6ebd4" stroke="#111" stroke-width="1.0"/>
<polyline points="319.15,374.15 320.13,373.97 321.12,373.78 322.11,373.58 323.09,373.36 324.07,373.12 325.06,372.87 326.05,372.59 327.03,372.30 328.01,371.98 329.00,371.64 329.99,371.27 330.97,370.88 331.95,370.46 332.94,370.02 333.93,369.54 334.91,369.03 335.89,368.49 336.88,367.91 337.87,367.30 338.85,366.65 339.84,365.97 340.82,365.24 341.81,364.47 342.79,363.66 343.77,362.80 344.76,361.90 345.75,360.94 346.73,359.94 347.71,358.89 348.70,357.79 349.69,356.63 350.67,355.43 351.66,354.16 352.64,352.84 353.62,351.47 354.61,350.03 355.59,348.54 356.58,346.99 357.56,345.38 358.55,343.72 359.54,341.99 360.52,340.21 361.50,338.37 362.49,336.47 363.48,334.52 364.46,332.51 365.44,330.44 366.43,328.33 367.41,326.16 368.40,323.94 369.38,321.67 370.37,319.36 371.36,317.01 372.34,314.62 373.32,312.19 374.31,309.73 375.30,307.24 376.28,304.72 377.26,302.18 378.25,299.62 379.24,297.05 380.22,294.47 381.20,291.88 382.19,289.29 383.18,286.71 384.16,284.14 385.14,281.58 386.13,279.05 387.12,276.54 388.10,274.06 389.09,271.62 390.07,269.22 391.06,266.87 392.04,264.57 393.02,262.34 394.01,260.16 395.00,258.06 395.98,256.04 396.96,254.09 397.95,252.23 398.94,250.46 399.92,248.78 400.90,247.21 401.89,245.74 402.88,244.37 403.86,243.12 404.85,241.98 405.83,240.96 406.81,240.06 407.80,239.29 408.79,238.64 409.77,238.12 410.75,237.72 411.74,237.46 412.73,237.33 413.71,237.33 414.70,237.46 415.68,237.72 416.66,238.11 417.65,238.63 418.63,239.27 419.62,240.05 420.61,240.94 421.59,241.96 422.57,243.09 423.56,244.35 424.55,245.71 425.53,247.18 426.51,248.75 427.50,250.42 428.49,252.19 429.47,254.05 430.45,256.00 431.44,258.02 432.43,260.12 433.41,262.29 434.40,264.53 435.38,266.82 436.37,269.17 437.35,271.57 438.34,274.01 439.32,276.49 440.31,279.00 441.29,281.53 442.27,284.09 443.26,286.66 444.25,289.24 445.23,291.83 446.21,294.42 447.20,297.00 448.19,299.57 449.17,302.13 450.15,304.67 451.14,307.19 452.12,309.68 453.11,312.14 454.10,314.57 455.08,316.96 456.06,319.32 457.05,321.63 458.03,323.89 459.02,326.11 460.00,328.28 460.99,330.40 461.98,332.47 462.96,334.48 463.95,336.43 464.93,338.33 465.91,340.17 466.90,341.96 467.88,343.68 468.87,345.35 469.86,346.96 470.84,348.51 471.82,350.00 472.81,351.44 473.80,352.81 474.78,354.14 475.76,355.40 476.75,356.61 477.74,357.77 478.72,358.87 479.71,359.92 480.69,360.92 481.67,361.88 482.66,362.78 483.64,363.64 484.63,364.45 485.62,365.22 486.60,365.95 487.59,366.64 488.57,367.29 489.56,367.90 490.54,368.48 491.52,369.02 492.51,369.53 493.50,370.01 494.48,370.45 495.47,370.87 496.45,371.26 497.44,371.63 498.42,371.97 499.40,372.29 500.39,372.59 501.38,372.86 502.36,373.12 503.35,373.36 504.33,373.58 505.32,373.78 506.30,373.97 507.28,374.14 508.27,374.30 509.25,374.45 510.24,374.59 511.23,374.72 512.21,374.83 513.20,374.94 514.18,375.04 515.16,375.13 516.15,375.21" fill="none" stroke="#e0182d" stroke-width="1.1"/>
</g>
<rect x="320.5" y="217.3" width="195.89999999999998" height="158.7" fill="none" stroke="#151515" stroke-width="1.05"/>
<text x="317.00" y="379.60" font-size="9.6" text-anchor="end" fill="#1c1c1c" stroke="#1c1c1c" stroke-width="0.22">0</text>
<line x1="320.5" y1="376.00" x2="323.0" y2="376.00" stroke="#222" stroke-width="0.8"/>
<text x="317.00" y="345.10" font-size="9.6" text-anchor="end" fill="#1c1c1c" stroke="#1c1c1c" stroke-width="0.22">5</text>
<line x1="320.5" y1="341.50" x2="323.0" y2="341.50" stroke="#222" stroke-width="0.8"/>
<text x="317.00" y="310.60" font-size="9.6" text-anchor="end" fill="#1c1c1c" stroke="#1c1c1c" stroke-width="0.22">10</text>
<line x1="320.5" y1="307.00" x2="323.0" y2="307.00" stroke="#222" stroke-width="0.8"/>
<text x="317.00" y="276.10" font-size="9.6" text-anchor="end" fill="#1c1c1c" stroke="#1c1c1c" stroke-width="0.22">15</text>
<line x1="320.5" y1="272.50" x2="323.0" y2="272.50" stroke="#222" stroke-width="0.8"/>
<text x="317.00" y="241.60" font-size="9.6" text-anchor="end" fill="#1c1c1c" stroke="#1c1c1c" stroke-width="0.22">20</text>
<line x1="320.5" y1="238.00" x2="323.0" y2="238.00" stroke="#222" stroke-width="0.8"/>
<line x1="320.5" y1="369.10" x2="321.9" y2="369.10" stroke="#222" stroke-width="0.6"/>
<line x1="320.5" y1="362.20" x2="321.9" y2="362.20" stroke="#222" stroke-width="0.6"/>
<line x1="320.5" y1="355.30" x2="321.9" y2="355.30" stroke="#222" stroke-width="0.6"/>
<line x1="320.5" y1="348.40" x2="321.9" y2="348.40" stroke="#222" stroke-width="0.6"/>
<line x1="320.5" y1="334.60" x2="321.9" y2="334.60" stroke="#222" stroke-width="0.6"/>
<line x1="320.5" y1="327.70" x2="321.9" y2="327.70" stroke="#222" stroke-width="0.6"/>
<line x1="320.5" y1="320.80" x2="321.9" y2="320.80" stroke="#222" stroke-width="0.6"/>
<line x1="320.5" y1="313.90" x2="321.9" y2="313.90" stroke="#222" stroke-width="0.6"/>
<line x1="320.5" y1="300.10" x2="321.9" y2="300.10" stroke="#222" stroke-width="0.6"/>
<line x1="320.5" y1="293.20" x2="321.9" y2="293.20" stroke="#222" stroke-width="0.6"/>
<line x1="320.5" y1="286.30" x2="321.9" y2="286.30" stroke="#222" stroke-width="0.6"/>
<line x1="320.5" y1="279.40" x2="321.9" y2="279.40" stroke="#222" stroke-width="0.6"/>
<line x1="320.5" y1="265.60" x2="321.9" y2="265.60" stroke="#222" stroke-width="0.6"/>
<line x1="320.5" y1="258.70" x2="321.9" y2="258.70" stroke="#222" stroke-width="0.6"/>
<line x1="320.5" y1="251.80" x2="321.9" y2="251.80" stroke="#222" stroke-width="0.6"/>
<line x1="320.5" y1="244.90" x2="321.9" y2="244.90" stroke="#222" stroke-width="0.6"/>
<line x1="320.5" y1="231.10" x2="321.9" y2="231.10" stroke="#222" stroke-width="0.6"/>
<line x1="320.5" y1="224.20" x2="321.9" y2="224.20" stroke="#222" stroke-width="0.6"/>
<text x="329.00" y="387.50" font-size="9.6" text-anchor="middle" fill="#1c1c1c" stroke="#1c1c1c" stroke-width="0.22">-30</text>
<line x1="329.00" y1="376" x2="329.00" y2="373.5" stroke="#222" stroke-width="0.8"/>
<text x="348.70" y="387.50" font-size="9.6" text-anchor="middle" fill="#1c1c1c" stroke="#1c1c1c" stroke-width="0.22">-28</text>
<line x1="348.70" y1="376" x2="348.70" y2="373.5" stroke="#222" stroke-width="0.8"/>
<text x="368.40" y="387.50" font-size="9.6" text-anchor="middle" fill="#1c1c1c" stroke="#1c1c1c" stroke-width="0.22">-26</text>
<line x1="368.40" y1="376" x2="368.40" y2="373.5" stroke="#222" stroke-width="0.8"/>
<text x="388.10" y="387.50" font-size="9.6" text-anchor="middle" fill="#1c1c1c" stroke="#1c1c1c" stroke-width="0.22">-24</text>
<line x1="388.10" y1="376" x2="388.10" y2="373.5" stroke="#222" stroke-width="0.8"/>
<text x="407.80" y="387.50" font-size="9.6" text-anchor="middle" fill="#1c1c1c" stroke="#1c1c1c" stroke-width="0.22">-22</text>
<line x1="407.80" y1="376" x2="407.80" y2="373.5" stroke="#222" stroke-width="0.8"/>
<text x="427.50" y="387.50" font-size="9.6" text-anchor="middle" fill="#1c1c1c" stroke="#1c1c1c" stroke-width="0.22">-20</text>
<line x1="427.50" y1="376" x2="427.50" y2="373.5" stroke="#222" stroke-width="0.8"/>
<text x="447.20" y="387.50" font-size="9.6" text-anchor="middle" fill="#1c1c1c" stroke="#1c1c1c" stroke-width="0.22">-18</text>
<line x1="447.20" y1="376" x2="447.20" y2="373.5" stroke="#222" stroke-width="0.8"/>
<text x="466.90" y="387.50" font-size="9.6" text-anchor="middle" fill="#1c1c1c" stroke="#1c1c1c" stroke-width="0.22">-16</text>
<line x1="466.90" y1="376" x2="466.90" y2="373.5" stroke="#222" stroke-width="0.8"/>
<text x="486.60" y="387.50" font-size="9.6" text-anchor="middle" fill="#1c1c1c" stroke="#1c1c1c" stroke-width="0.22">-14</text>
<line x1="486.60" y1="376" x2="486.60" y2="373.5" stroke="#222" stroke-width="0.8"/>
<text x="506.30" y="387.50" font-size="9.6" text-anchor="middle" fill="#1c1c1c" stroke="#1c1c1c" stroke-width="0.22">-12</text>
<line x1="506.30" y1="376" x2="506.30" y2="373.5" stroke="#222" stroke-width="0.8"/>
<line x1="338.85" y1="376" x2="338.85" y2="374.5" stroke="#222" stroke-width="0.7"/>
<line x1="358.55" y1="376" x2="358.55" y2="374.5" stroke="#222" stroke-width="0.7"/>
<line x1="378.25" y1="376" x2="378.25" y2="374.5" stroke="#222" stroke-width="0.7"/>
<line x1="397.95" y1="376" x2="397.95" y2="374.5" stroke="#222" stroke-width="0.7"/>
<line x1="417.65" y1="376" x2="417.65" y2="374.5" stroke="#222" stroke-width="0.7"/>
<line x1="437.35" y1="376" x2="437.35" y2="374.5" stroke="#222" stroke-width="0.7"/>
<line x1="457.05" y1="376" x2="457.05" y2="374.5" stroke="#222" stroke-width="0.7"/>
<line x1="476.75" y1="376" x2="476.75" y2="374.5" stroke="#222" stroke-width="0.7"/>
<line x1="496.45" y1="376" x2="496.45" y2="374.5" stroke="#222" stroke-width="0.7"/>
<line x1="516.15" y1="376" x2="516.15" y2="374.5" stroke="#222" stroke-width="0.7"/>
<text x="301.20" y="297.00" font-size="10.55" text-anchor="middle" fill="#1c1c1c" stroke="#1c1c1c" stroke-width="0.22" transform="rotate(-90 301.20 297.00)">Probability density(%)</text>
<text x="412.30" y="399.10" font-size="9.85" text-anchor="middle" fill="#1c1c1c" stroke="#1c1c1c" stroke-width="0.22">Current error(μA)</text>
<text x="415.40" y="415.40" font-size="11.5" text-anchor="middle" fill="#1c1c1c" stroke="#1c1c1c" stroke-width="0.22" font-family="'Liberation Serif', 'Times New Roman', serif">(d)</text>
<text x="326.40" y="227.00" font-size="9.6" text-anchor="start" fill="#d8202c" stroke="#d8202c" stroke-width="0.22">Normal Distribution</text>
<text x="326.4" y="239" font-size="9.6" fill="#d8202c"><tspan font-style="italic">μ</tspan>=-21.449</text>
<text x="326.4" y="251" font-size="9.6" fill="#d8202c"><tspan font-style="italic">σ</tspan>=3.251</text>
<rect x="85.5" y="493.44" width="29" height="96.56" fill="#ff0000" stroke="#300" stroke-width="0.8"/>
<rect x="183.3" y="484.81" width="29.7" height="105.19" fill="#0a6cf2" stroke="#012" stroke-width="0.8"/>
<path d="M198.2 475.3 V495.3 M196 475.3 H200.4 M196 495.3 H200.4" stroke="#222" stroke-width="0.9" fill="none"/>
<rect x="50.5" y="432" width="197.0" height="158" fill="none" stroke="#151515" stroke-width="1.05"/>
<text x="47.00" y="593.55" font-size="9.6" text-anchor="end" fill="#1c1c1c" stroke="#1c1c1c" stroke-width="0.22">70</text>
<line x1="50.5" y1="589.95" x2="53.0" y2="589.95" stroke="#222" stroke-width="0.8"/>
<text x="47.00" y="567.23" font-size="9.6" text-anchor="end" fill="#1c1c1c" stroke="#1c1c1c" stroke-width="0.22">75</text>
<line x1="50.5" y1="563.62" x2="53.0" y2="563.62" stroke="#222" stroke-width="0.8"/>
<text x="47.00" y="540.90" font-size="9.6" text-anchor="end" fill="#1c1c1c" stroke="#1c1c1c" stroke-width="0.22">80</text>
<line x1="50.5" y1="537.30" x2="53.0" y2="537.30" stroke="#222" stroke-width="0.8"/>
<text x="47.00" y="514.58" font-size="9.6" text-anchor="end" fill="#1c1c1c" stroke="#1c1c1c" stroke-width="0.22">85</text>
<line x1="50.5" y1="510.98" x2="53.0" y2="510.98" stroke="#222" stroke-width="0.8"/>
<text x="47.00" y="488.25" font-size="9.6" text-anchor="end" fill="#1c1c1c" stroke="#1c1c1c" stroke-width="0.22">90</text>
<line x1="50.5" y1="484.65" x2="53.0" y2="484.65" stroke="#222" stroke-width="0.8"/>
<text x="47.00" y="461.93" font-size="9.6" text-anchor="end" fill="#1c1c1c" stroke="#1c1c1c" stroke-width="0.22">95</text>
<line x1="50.5" y1="458.32" x2="53.0" y2="458.32" stroke="#222" stroke-width="0.8"/>
<text x="47.00" y="435.60" font-size="9.6" text-anchor="end" fill="#1c1c1c" stroke="#1c1c1c" stroke-width="0.22">100</text>
<line x1="50.5" y1="432.00" x2="53.0" y2="432.00" stroke="#222" stroke-width="0.8"/>
<line x1="50.5" y1="576.79" x2="52.0" y2="576.79" stroke="#222" stroke-width="0.6"/>
<line x1="50.5" y1="550.46" x2="52.0" y2="550.46" stroke="#222" stroke-width="0.6"/>
<line x1="50.5" y1="524.14" x2="52.0" y2="524.14" stroke="#222" stroke-width="0.6"/>
<line x1="50.5" y1="497.81" x2="52.0" y2="497.81" stroke="#222" stroke-width="0.6"/>
<line x1="50.5" y1="471.49" x2="52.0" y2="471.49" stroke="#222" stroke-width="0.6"/>
<line x1="50.5" y1="445.16" x2="52.0" y2="445.16" stroke="#222" stroke-width="0.6"/>
<line x1="100" y1="590" x2="100" y2="587.5" stroke="#222" stroke-width="0.8"/>
<line x1="198.2" y1="590" x2="198.2" y2="587.5" stroke="#222" stroke-width="0.8"/>
<text x="99.30" y="601.00" font-size="9.6" text-anchor="middle" fill="#1c1c1c" stroke="#1c1c1c" stroke-width="0.22">Software</text>
<text x="198.20" y="601.00" font-size="9.6" text-anchor="middle" fill="#1c1c1c" stroke="#1c1c1c" stroke-width="0.22">Memristors</text>
<text x="152.80" y="615.30" font-size="10.5" text-anchor="middle" fill="#1c1c1c" stroke="#1c1c1c" stroke-width="0.22">Network Systems</text>
<text x="128.00" y="631.00" font-size="11.5" text-anchor="middle" fill="#1c1c1c" stroke="#1c1c1c" stroke-width="0.22" font-family="'Liberation Serif', 'Times New Roman', serif">(e)</text>
<text x="21.60" y="510.20" font-size="10.55" text-anchor="middle" fill="#1c1c1c" stroke="#1c1c1c" stroke-width="0.22" transform="rotate(-90 21.60 510.20)">Accuracy(%)</text>
<text x="100.00" y="487.30" font-size="9.6" text-anchor="middle" fill="#1c1c1c" stroke="#1c1c1c" stroke-width="0.22">88.33</text>
<text x="198.20" y="469.70" font-size="9.6" text-anchor="middle" fill="#1c1c1c" stroke="#1c1c1c" stroke-width="0.22">89.83±1.89</text>
<text x="58.00" y="449.60" font-size="9.7" text-anchor="start" fill="#ec7a2c" stroke="#ec7a2c" stroke-width="0.22">The accuracy of the two systems is similar</text>
<rect x="359.5" y="474.28" width="20" height="116.02" fill="#ff0000" stroke="#300" stroke-width="0.8"/>
<rect x="458" y="555.33" width="20" height="34.97" fill="#0a6cf2" stroke="#012" stroke-width="0.8"/>
<rect x="320" y="432" width="197" height="158.29999999999995" fill="none" stroke="#151515" stroke-width="1.05"/>
<text x="313.2" y="593.90" font-size="9.6" text-anchor="end" fill="#1c1c1c">10</text>
<text x="313.2" y="589.50" font-size="6.5" text-anchor="start" fill="#1c1c1c">0</text>
<line x1="320" y1="590.30" x2="323" y2="590.30" stroke="#222" stroke-width="0.8"/>
<line x1="320" y1="574.41" x2="321.6" y2="574.41" stroke="#222" stroke-width="0.6"/>
<line x1="320" y1="565.12" x2="321.6" y2="565.12" stroke="#222" stroke-width="0.6"/>
<line x1="320" y1="558.53" x2="321.6" y2="558.53" stroke="#222" stroke-width="0.6"/>
<line x1="320" y1="553.42" x2="321.6" y2="553.42" stroke="#222" stroke-width="0.6"/>
<line x1="320" y1="549.24" x2="321.6" y2="549.24" stroke="#222" stroke-width="0.6"/>
<line x1="320" y1="545.70" x2="321.6" y2="545.70" stroke="#222" stroke-width="0.6"/>
<line x1="320" y1="542.64" x2="321.6" y2="542.64" stroke="#222" stroke-width="0.6"/>
<line x1="320" y1="539.94" x2="321.6" y2="539.94" stroke="#222" stroke-width="0.6"/>
<text x="313.2" y="541.13" font-size="9.6" text-anchor="end" fill="#1c1c1c">10</text>
<text x="313.2" y="536.73" font-size="6.5" text-anchor="start" fill="#1c1c1c">1</text>
<line x1="320" y1="537.53" x2="323" y2="537.53" stroke="#222" stroke-width="0.8"/>
<line x1="320" y1="521.64" x2="321.6" y2="521.64" stroke="#222" stroke-width="0.6"/>
<line x1="320" y1="512.35" x2="321.6" y2="512.35" stroke="#222" stroke-width="0.6"/>
<line x1="320" y1="505.76" x2="321.6" y2="505.76" stroke="#222" stroke-width="0.6"/>
<line x1="320" y1="500.65" x2="321.6" y2="500.65" stroke="#222" stroke-width="0.6"/>
<line x1="320" y1="496.47" x2="321.6" y2="496.47" stroke="#222" stroke-width="0.6"/>
<line x1="320" y1="492.93" x2="321.6" y2="492.93" stroke="#222" stroke-width="0.6"/>
<line x1="320" y1="489.87" x2="321.6" y2="489.87" stroke="#222" stroke-width="0.6"/>
<line x1="320" y1="487.17" x2="321.6" y2="487.17" stroke="#222" stroke-width="0.6"/>
<text x="313.2" y="488.36" font-size="9.6" text-anchor="end" fill="#1c1c1c">10</text>
<text x="313.2" y="483.96" font-size="6.5" text-anchor="start" fill="#1c1c1c">2</text>
<line x1="320" y1="484.76" x2="323" y2="484.76" stroke="#222" stroke-width="0.8"/>
<line x1="320" y1="468.87" x2="321.6" y2="468.87" stroke="#222" stroke-width="0.6"/>
<line x1="320" y1="459.58" x2="321.6" y2="459.58" stroke="#222" stroke-width="0.6"/>
<line x1="320" y1="452.99" x2="321.6" y2="452.99" stroke="#222" stroke-width="0.6"/>
<line x1="320" y1="447.88" x2="321.6" y2="447.88" stroke="#222" stroke-width="0.6"/>
<line x1="320" y1="443.70" x2="321.6" y2="443.70" stroke="#222" stroke-width="0.6"/>
<line x1="320" y1="440.16" x2="321.6" y2="440.16" stroke="#222" stroke-width="0.6"/>
<line x1="320" y1="437.10" x2="321.6" y2="437.10" stroke="#222" stroke-width="0.6"/>
<line x1="320" y1="434.40" x2="321.6" y2="434.40" stroke="#222" stroke-width="0.6"/>
<text x="313.2" y="435.59" font-size="9.6" text-anchor="end" fill="#1c1c1c">10</text>
<text x="313.2" y="431.19" font-size="6.5" text-anchor="start" fill="#1c1c1c">3</text>
<line x1="320" y1="431.99" x2="323" y2="431.99" stroke="#222" stroke-width="0.8"/>
<line x1="369.5" y1="590.3" x2="369.5" y2="587.8" stroke="#222" stroke-width="0.8"/>
<line x1="468" y1="590.3" x2="468" y2="587.8" stroke="#222" stroke-width="0.8"/>
<text x="368.80" y="601.00" font-size="10.5" text-anchor="middle" fill="#1c1c1c" stroke="#1c1c1c" stroke-width="0.22">CMOS</text>
<text x="468.00" y="601.00" font-size="10.5" text-anchor="middle" fill="#1c1c1c" stroke="#1c1c1c" stroke-width="0.22">Memristor</text>
<text x="416.30" y="615.30" font-size="10.3" text-anchor="middle" fill="#1c1c1c" stroke="#1c1c1c" stroke-width="0.22">System</text>
<text x="414.30" y="631.00" font-size="11.5" text-anchor="middle" fill="#1c1c1c" stroke="#1c1c1c" stroke-width="0.22" font-family="'Liberation Serif', 'Times New Roman', serif">(f)</text>
<text x="295.40" y="510.30" font-size="10.55" text-anchor="middle" fill="#1c1c1c" stroke="#1c1c1c" stroke-width="0.22" transform="rotate(-90 295.40 510.30)">Power consumption(μW)</text>
<text x="369.50" y="472.30" font-size="9.6" text-anchor="middle" fill="#1c1c1c" stroke="#1c1c1c" stroke-width="0.22">158.0</text>
<text x="468.00" y="553.30" font-size="9.6" text-anchor="middle" fill="#1c1c1c" stroke="#1c1c1c" stroke-width="0.22">4.6</text>
<line x1="383.6" y1="476.6" x2="458.6" y2="544.6" stroke="#e8651a" stroke-width="1.25"/>
<path d="M460.6 546.4 L453.2 543.3 L456.6 542.8 L457.4 539.4 Z" fill="#e8651a"/>
<text x="413.00" y="498.60" font-size="9.6" text-anchor="start" fill="#ec7a2c" stroke="#ec7a2c" stroke-width="0.22">Efficiency</text>
<text x="430.40" y="513.00" font-size="9.6" text-anchor="start" fill="#ec7a2c" stroke="#ec7a2c" stroke-width="0.22">×34.4</text>
</svg>
</body></html>
